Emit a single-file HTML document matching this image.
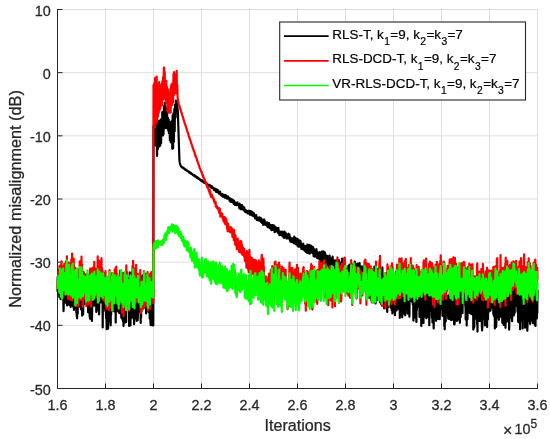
<!DOCTYPE html>
<html><head><meta charset="utf-8"><title>Normalized misalignment</title>
<style>
html,body{margin:0;padding:0;background:#fff;}
body{width:550px;height:439px;overflow:hidden;}
svg{display:block;font-family:"Liberation Sans",Arial,Helvetica,sans-serif;fill:#262626;}
.grid line{stroke:#dfdfdf;stroke-width:1;}
.ax line{stroke:#262626;stroke-width:1;}
.tl text{font-size:14.4px;}
text{stroke:#262626;stroke-width:0.25px;}
.lab{font-size:15.6px;}
.leg text{font-size:13.45px;fill:#000;stroke:#000;stroke-width:0.2px;}
.c{fill:none;stroke-width:2.2;stroke-linejoin:round;stroke-linecap:butt;}
</style></head><body>
<svg width="550" height="439" viewBox="0 0 550 439">
<rect width="550" height="439" fill="#fff"/>
<g class="grid">
<line x1="57.5" y1="9.5" x2="57.5" y2="388.5"/>
<line x1="105.5" y1="9.5" x2="105.5" y2="388.5"/>
<line x1="153.5" y1="9.5" x2="153.5" y2="388.5"/>
<line x1="201.5" y1="9.5" x2="201.5" y2="388.5"/>
<line x1="249.5" y1="9.5" x2="249.5" y2="388.5"/>
<line x1="297.5" y1="9.5" x2="297.5" y2="388.5"/>
<line x1="345.5" y1="9.5" x2="345.5" y2="388.5"/>
<line x1="393.5" y1="9.5" x2="393.5" y2="388.5"/>
<line x1="441.5" y1="9.5" x2="441.5" y2="388.5"/>
<line x1="489.5" y1="9.5" x2="489.5" y2="388.5"/>
<line x1="537.5" y1="9.5" x2="537.5" y2="388.5"/>
<line x1="57.5" y1="9.50" x2="537.5" y2="9.50"/>
<line x1="57.5" y1="72.67" x2="537.5" y2="72.67"/>
<line x1="57.5" y1="135.83" x2="537.5" y2="135.83"/>
<line x1="57.5" y1="199.00" x2="537.5" y2="199.00"/>
<line x1="57.5" y1="262.17" x2="537.5" y2="262.17"/>
<line x1="57.5" y1="325.33" x2="537.5" y2="325.33"/>
<line x1="57.5" y1="388.50" x2="537.5" y2="388.50"/>
</g>
<g class="ax">
<line x1="57.5" y1="9" x2="57.5" y2="389"/>
<line x1="57" y1="388.5" x2="538" y2="388.5"/>
<line x1="57.5" y1="388.5" x2="57.5" y2="383.5"/>
<line x1="105.5" y1="388.5" x2="105.5" y2="383.5"/>
<line x1="153.5" y1="388.5" x2="153.5" y2="383.5"/>
<line x1="201.5" y1="388.5" x2="201.5" y2="383.5"/>
<line x1="249.5" y1="388.5" x2="249.5" y2="383.5"/>
<line x1="297.5" y1="388.5" x2="297.5" y2="383.5"/>
<line x1="345.5" y1="388.5" x2="345.5" y2="383.5"/>
<line x1="393.5" y1="388.5" x2="393.5" y2="383.5"/>
<line x1="441.5" y1="388.5" x2="441.5" y2="383.5"/>
<line x1="489.5" y1="388.5" x2="489.5" y2="383.5"/>
<line x1="537.5" y1="388.5" x2="537.5" y2="383.5"/>
<line x1="57.5" y1="9.50" x2="62.5" y2="9.50"/>
<line x1="57.5" y1="72.67" x2="62.5" y2="72.67"/>
<line x1="57.5" y1="135.83" x2="62.5" y2="135.83"/>
<line x1="57.5" y1="199.00" x2="62.5" y2="199.00"/>
<line x1="57.5" y1="262.17" x2="62.5" y2="262.17"/>
<line x1="57.5" y1="325.33" x2="62.5" y2="325.33"/>
<line x1="57.5" y1="388.50" x2="62.5" y2="388.50"/>
</g>
<g class="tl">
<text transform="translate(57.5,410.4) scale(1,1.05)" text-anchor="middle">1.6</text>
<text transform="translate(105.5,410.4) scale(1,1.05)" text-anchor="middle">1.8</text>
<text transform="translate(153.5,410.4) scale(1,1.05)" text-anchor="middle">2</text>
<text transform="translate(201.5,410.4) scale(1,1.05)" text-anchor="middle">2.2</text>
<text transform="translate(249.5,410.4) scale(1,1.05)" text-anchor="middle">2.4</text>
<text transform="translate(297.5,410.4) scale(1,1.05)" text-anchor="middle">2.6</text>
<text transform="translate(345.5,410.4) scale(1,1.05)" text-anchor="middle">2.8</text>
<text transform="translate(393.5,410.4) scale(1,1.05)" text-anchor="middle">3</text>
<text transform="translate(441.5,410.4) scale(1,1.05)" text-anchor="middle">3.2</text>
<text transform="translate(489.5,410.4) scale(1,1.05)" text-anchor="middle">3.4</text>
<text transform="translate(537.5,410.4) scale(1,1.05)" text-anchor="middle">3.6</text>
<text transform="translate(50.7,15.5) scale(1,1.05)" text-anchor="end">10</text>
<text transform="translate(50.7,78.7) scale(1,1.05)" text-anchor="end">0</text>
<text transform="translate(50.7,141.8) scale(1,1.05)" text-anchor="end">-10</text>
<text transform="translate(50.7,205.0) scale(1,1.05)" text-anchor="end">-20</text>
<text transform="translate(50.7,268.2) scale(1,1.05)" text-anchor="end">-30</text>
<text transform="translate(50.7,331.3) scale(1,1.05)" text-anchor="end">-40</text>
<text transform="translate(50.7,394.5) scale(1,1.05)" text-anchor="end">-50</text>
</g>
<text class="lab" transform="translate(297.6,431.4) scale(1.033,1)" text-anchor="middle">Iterations</text>
<text class="lab" transform="translate(20.5,199) rotate(-90) scale(1.042,1)" text-anchor="middle">Normalized misalignment (dB)</text>
<g class="tl"><text style="font-size:16px" x="503.0" y="436.2">×</text>
<text transform="translate(514.4,434) scale(1,1.06)">10</text>
<text transform="translate(530.4,428) scale(1,1.05)" style="font-size:12px">5</text></g>
<path class="c" stroke="#000" d="M57.5,291.8 L57.7,277.1 L57.9,276.5 L58.1,281.5 L58.3,274.8 L58.5,294.1 L58.7,281.0 L58.9,270.5 L59.1,280.7 L59.3,297.0 L59.5,269.5 L59.7,269.7 L59.9,266.0 L60.1,272.6 L60.3,286.9 L60.5,299.1 L60.7,269.6 L60.9,269.1 L61.1,297.8 L61.3,290.2 L61.5,276.5 L61.7,293.6 L61.9,292.8 L62.1,299.1 L62.3,285.6 L62.5,277.6 L62.7,294.4 L62.9,279.5 L63.1,288.3 L63.3,286.3 L63.5,311.1 L63.7,306.5 L63.9,282.4 L64.1,295.1 L64.3,279.3 L64.5,286.1 L64.7,277.7 L64.9,278.0 L65.1,277.1 L65.3,286.2 L65.5,302.4 L65.7,300.7 L65.9,289.9 L66.1,302.9 L66.3,290.9 L66.5,285.8 L66.7,283.5 L66.9,282.0 L67.1,305.5 L67.3,287.9 L67.5,284.4 L67.7,275.3 L67.9,285.2 L68.1,295.5 L68.3,296.1 L68.5,271.4 L68.7,273.3 L68.9,268.9 L69.1,268.9 L69.3,305.0 L69.5,283.9 L69.7,281.9 L69.9,283.9 L70.1,278.7 L70.3,288.9 L70.5,288.9 L70.7,307.0 L70.9,291.5 L71.1,299.8 L71.3,281.6 L71.5,296.2 L71.7,281.4 L71.9,281.1 L72.1,279.1 L72.3,293.4 L72.5,294.3 L72.7,297.9 L72.9,305.7 L73.1,306.6 L73.3,292.1 L73.5,298.9 L73.7,281.4 L73.9,310.0 L74.1,280.5 L74.3,303.8 L74.5,306.4 L74.7,296.6 L74.9,304.3 L75.1,286.2 L75.3,304.6 L75.5,308.0 L75.7,300.0 L75.9,288.5 L76.1,296.0 L76.3,312.4 L76.5,300.6 L76.7,316.2 L76.9,276.3 L77.1,318.3 L77.3,291.2 L77.5,289.6 L77.7,313.7 L77.9,291.9 L78.1,281.8 L78.3,295.0 L78.5,302.6 L78.7,286.2 L78.9,300.1 L79.1,295.6 L79.3,300.1 L79.5,287.4 L79.7,302.5 L79.9,285.0 L80.1,301.8 L80.3,307.1 L80.5,292.1 L80.7,284.7 L80.9,289.6 L81.1,309.5 L81.3,284.3 L81.5,294.7 L81.7,293.0 L81.9,294.9 L82.1,315.6 L82.3,291.8 L82.5,302.8 L82.7,304.5 L82.9,313.9 L83.1,314.5 L83.3,303.0 L83.5,282.3 L83.7,273.0 L83.9,292.0 L84.1,274.8 L84.3,290.2 L84.5,304.1 L84.7,280.3 L84.9,282.7 L85.1,293.3 L85.3,283.8 L85.5,279.9 L85.7,299.2 L85.9,300.6 L86.1,291.1 L86.3,299.8 L86.5,295.4 L86.7,282.2 L86.9,275.1 L87.1,300.9 L87.3,288.4 L87.5,286.7 L87.7,291.0 L87.9,290.9 L88.1,312.3 L88.3,294.3 L88.5,276.2 L88.7,294.9 L88.9,305.8 L89.1,292.7 L89.3,284.4 L89.5,305.2 L89.7,317.1 L89.9,293.0 L90.1,318.8 L90.3,299.6 L90.5,301.6 L90.7,313.0 L90.9,288.0 L91.1,298.9 L91.3,311.1 L91.5,292.3 L91.7,309.6 L91.9,320.9 L92.1,312.1 L92.3,296.9 L92.5,290.2 L92.7,303.5 L92.9,293.8 L93.1,293.7 L93.3,303.2 L93.5,284.7 L93.7,299.7 L93.9,305.1 L94.1,291.5 L94.3,305.7 L94.5,305.0 L94.7,279.2 L94.9,294.3 L95.1,298.2 L95.3,287.7 L95.5,301.5 L95.7,285.9 L95.9,305.4 L96.1,282.9 L96.3,311.9 L96.5,278.2 L96.7,298.9 L96.9,309.2 L97.1,286.1 L97.3,289.2 L97.5,281.5 L97.7,292.0 L97.9,290.8 L98.1,270.3 L98.3,310.4 L98.5,292.3 L98.7,296.2 L98.9,295.7 L99.1,314.5 L99.3,298.7 L99.5,279.0 L99.7,292.8 L99.9,274.5 L100.1,294.6 L100.3,280.8 L100.5,271.0 L100.7,302.3 L100.9,291.7 L101.1,283.1 L101.3,282.8 L101.5,272.0 L101.7,281.9 L101.9,291.0 L102.1,278.1 L102.3,270.8 L102.5,275.8 L102.7,327.5 L102.9,296.1 L103.1,308.6 L103.3,282.5 L103.5,299.5 L103.7,275.8 L103.9,283.8 L104.1,281.5 L104.3,299.4 L104.5,301.8 L104.7,288.6 L104.9,282.6 L105.1,292.6 L105.3,311.1 L105.5,283.0 L105.7,306.8 L105.9,311.9 L106.1,318.1 L106.3,306.2 L106.5,312.3 L106.7,329.2 L106.9,290.5 L107.1,292.8 L107.3,301.3 L107.5,296.5 L107.7,292.5 L107.9,295.9 L108.1,328.6 L108.3,310.5 L108.5,294.2 L108.7,282.6 L108.9,278.7 L109.1,286.0 L109.3,321.3 L109.5,317.3 L109.7,287.0 L109.9,292.2 L110.1,280.5 L110.3,293.4 L110.5,295.2 L110.7,325.3 L110.9,303.6 L111.1,315.0 L111.3,299.0 L111.5,301.5 L111.7,304.0 L111.9,297.4 L112.1,296.0 L112.3,302.3 L112.5,292.5 L112.7,304.8 L112.9,302.2 L113.1,276.1 L113.3,299.0 L113.5,278.8 L113.7,285.7 L113.9,305.3 L114.1,311.3 L114.3,291.2 L114.5,296.7 L114.7,285.5 L114.9,308.0 L115.1,304.6 L115.3,298.0 L115.5,278.6 L115.7,322.6 L115.9,286.1 L116.1,304.1 L116.3,284.9 L116.5,297.9 L116.7,287.1 L116.9,274.0 L117.1,290.1 L117.3,296.7 L117.5,304.3 L117.7,310.9 L117.9,300.5 L118.1,309.6 L118.3,311.7 L118.5,294.2 L118.7,307.5 L118.9,283.7 L119.1,297.1 L119.3,313.2 L119.5,285.5 L119.7,286.0 L119.9,275.2 L120.1,284.1 L120.3,284.5 L120.5,288.3 L120.7,299.5 L120.9,280.0 L121.1,287.9 L121.3,317.7 L121.5,290.5 L121.7,318.5 L121.9,297.1 L122.1,310.6 L122.3,305.1 L122.5,289.0 L122.7,287.2 L122.9,321.2 L123.1,289.1 L123.3,273.1 L123.5,326.1 L123.7,278.1 L123.9,315.0 L124.1,310.9 L124.3,303.4 L124.5,322.5 L124.7,279.2 L124.9,289.9 L125.1,305.6 L125.3,303.6 L125.5,322.4 L125.7,301.4 L125.9,290.3 L126.1,322.1 L126.3,292.5 L126.5,288.0 L126.7,279.7 L126.9,274.8 L127.1,302.3 L127.3,302.8 L127.5,292.8 L127.7,304.3 L127.9,302.3 L128.1,278.9 L128.3,280.1 L128.5,290.9 L128.7,302.7 L128.9,298.7 L129.1,325.9 L129.3,299.8 L129.5,306.6 L129.7,272.3 L129.9,281.5 L130.1,296.6 L130.3,295.2 L130.5,325.5 L130.7,290.3 L130.9,275.2 L131.1,310.5 L131.3,293.1 L131.5,289.1 L131.7,317.4 L131.9,279.2 L132.1,273.4 L132.3,282.1 L132.5,281.0 L132.7,288.4 L132.9,316.4 L133.1,283.7 L133.3,283.7 L133.5,318.5 L133.7,285.1 L133.9,307.0 L134.1,324.3 L134.3,292.6 L134.5,318.9 L134.7,298.5 L134.9,310.0 L135.1,282.7 L135.3,306.6 L135.5,292.1 L135.7,299.5 L135.9,306.0 L136.1,279.6 L136.3,298.9 L136.5,311.1 L136.7,321.0 L136.9,280.9 L137.1,286.5 L137.3,304.9 L137.5,295.4 L137.7,320.1 L137.9,314.2 L138.1,312.6 L138.3,296.0 L138.5,299.0 L138.7,310.8 L138.9,295.8 L139.1,290.7 L139.3,302.1 L139.5,291.7 L139.7,309.4 L139.9,311.4 L140.1,303.4 L140.3,301.3 L140.5,296.0 L140.7,322.9 L140.9,292.9 L141.1,317.4 L141.3,299.3 L141.5,311.2 L141.7,290.2 L141.9,276.3 L142.1,276.8 L142.3,280.0 L142.5,307.4 L142.7,285.9 L142.9,289.0 L143.1,302.4 L143.3,275.1 L143.5,289.8 L143.7,291.5 L143.9,282.0 L144.1,299.9 L144.3,299.8 L144.5,292.6 L144.7,279.0 L144.9,278.3 L145.1,277.9 L145.3,274.2 L145.5,308.5 L145.7,295.8 L145.9,290.0 L146.1,313.4 L146.3,303.6 L146.5,279.9 L146.7,284.6 L146.9,281.4 L147.1,303.7 L147.3,302.3 L147.5,278.1 L147.7,302.1 L147.9,302.5 L148.1,280.6 L148.3,304.5 L148.5,311.9 L148.7,306.9 L148.9,295.7 L149.1,300.3 L149.3,297.3 L149.5,290.7 L149.7,318.7 L149.9,307.3 L150.1,309.1 L150.3,318.3 L150.5,322.7 L150.7,325.1 L150.9,323.7 L151.1,318.2 L151.3,322.9 L151.5,309.8 L151.7,282.2 L151.9,312.1 L152.1,292.1 L152.3,308.9 L152.5,325.5 L152.7,316.4 L152.9,321.2 L153.1,299.3 L153.3,325.3 L153.5,126.1 L153.7,126.3 L153.9,139.1 L154.1,127.6 L154.3,127.0 L154.5,132.6 L154.7,144.6 L154.9,137.9 L155.1,125.5 L155.3,131.2 L155.5,145.3 L155.7,141.1 L155.9,124.2 L156.1,130.8 L156.3,146.2 L156.5,143.4 L156.7,125.6 L156.9,148.2 L157.1,155.9 L157.3,125.5 L157.5,123.0 L157.7,144.5 L157.9,149.1 L158.1,136.7 L158.3,121.1 L158.5,134.7 L158.7,145.6 L158.9,134.9 L159.1,120.8 L159.3,123.5 L159.5,146.4 L159.7,132.6 L159.9,122.1 L160.1,137.4 L160.3,145.3 L160.5,124.9 L160.7,119.6 L160.9,138.5 L161.1,143.1 L161.3,128.0 L161.5,118.9 L161.7,121.8 L161.9,134.3 L162.1,135.4 L162.3,112.2 L162.5,122.6 L162.7,135.2 L162.9,135.4 L163.1,112.8 L163.3,124.7 L163.5,134.3 L163.7,125.8 L163.9,106.4 L164.1,112.6 L164.3,128.6 L164.5,117.9 L164.7,102.6 L164.9,118.6 L165.1,127.9 L165.3,123.6 L165.5,106.7 L165.7,108.8 L165.9,125.2 L166.1,112.0 L166.3,109.2 L166.5,116.7 L166.7,128.2 L166.9,121.3 L167.1,112.7 L167.3,124.0 L167.5,126.9 L167.7,118.1 L167.9,117.9 L168.1,122.5 L168.3,130.7 L168.5,130.8 L168.7,119.6 L168.9,133.1 L169.1,132.7 L169.3,131.8 L169.5,122.3 L169.7,131.6 L169.9,140.2 L170.1,136.6 L170.3,125.0 L170.5,126.3 L170.7,142.3 L170.9,125.9 L171.1,121.7 L171.3,136.1 L171.5,140.7 L171.7,131.1 L171.9,121.6 L172.1,139.4 L172.3,148.8 L172.5,121.0 L172.7,115.3 L172.9,137.2 L173.1,148.3 L173.3,132.0 L173.5,113.0 L173.7,129.2 L173.9,141.8 L174.1,124.2 L174.3,109.2 L174.5,128.1 L174.7,131.2 L174.9,111.5 L175.1,104.8 L175.3,116.9 L175.5,117.4 L175.7,105.6 L175.9,100.6 L176.1,102.1 L176.3,109.1 L176.5,105.8 L176.7,101.1 L176.9,103.4 L177.1,105.2 L177.3,107.0 L177.6,108.9 L177.8,110.9 L178.0,116.9 L178.2,122.9 L178.4,128.9 L178.6,134.9 L178.8,141.0 L179.0,147.0 L179.2,153.0 L179.4,159.0 L179.6,161.7 L179.8,162.6 L180.0,163.4 L180.2,164.3 L180.4,164.8 L180.6,165.3 L180.8,165.8 L181.0,166.3 L181.2,166.4 L181.4,166.5 L181.6,166.9 L181.8,167.4 L182.0,167.2 L182.2,167.3 L182.4,167.3 L182.6,167.5 L182.8,167.4 L183.0,167.5 L183.2,168.0 L183.4,167.7 L183.6,168.3 L183.8,168.5 L184.0,168.6 L184.2,168.3 L184.4,168.7 L184.6,169.3 L184.8,169.1 L185.0,169.2 L185.2,169.3 L185.4,169.6 L185.6,169.9 L185.8,169.5 L186.0,170.0 L186.2,170.2 L186.4,170.3 L186.6,170.3 L186.8,170.3 L187.0,170.3 L187.2,170.9 L187.4,171.0 L187.6,171.1 L187.8,170.9 L188.0,171.2 L188.2,171.3 L188.4,171.4 L188.6,172.0 L188.8,171.9 L189.0,172.4 L189.2,171.8 L189.4,172.6 L189.6,172.6 L189.8,172.2 L190.0,172.6 L190.2,172.7 L190.4,173.3 L190.6,173.5 L190.8,173.3 L191.0,173.0 L191.2,173.8 L191.4,173.3 L191.6,173.9 L191.8,174.0 L192.0,174.0 L192.2,174.1 L192.4,174.1 L192.6,174.7 L192.8,174.9 L193.0,175.2 L193.2,175.2 L193.4,175.3 L193.6,175.5 L193.8,175.3 L194.0,175.7 L194.2,175.9 L194.4,175.1 L194.6,175.9 L194.8,176.3 L195.0,176.0 L195.2,175.9 L195.4,176.8 L195.6,177.0 L195.8,176.9 L196.0,176.4 L196.2,176.9 L196.4,177.1 L196.6,177.0 L196.8,176.9 L197.0,177.8 L197.2,177.6 L197.4,178.1 L197.6,177.3 L197.8,177.5 L198.0,177.7 L198.2,178.3 L198.4,178.1 L198.6,179.0 L198.8,178.6 L199.0,179.1 L199.2,179.2 L199.4,179.3 L199.6,179.5 L199.8,179.4 L200.0,179.6 L200.2,179.5 L200.4,180.1 L200.6,179.9 L200.8,180.4 L201.0,180.0 L201.2,180.7 L201.4,181.1 L201.6,180.9 L201.8,180.0 L202.0,180.6 L202.2,181.1 L202.4,180.7 L202.6,180.9 L202.8,181.1 L203.0,181.7 L203.2,181.9 L203.4,181.8 L203.6,182.4 L203.8,182.6 L204.0,182.3 L204.2,181.9 L204.4,182.1 L204.6,182.3 L204.8,182.2 L205.0,182.1 L205.2,182.9 L205.4,182.6 L205.6,182.5 L205.8,183.1 L206.0,183.5 L206.2,183.2 L206.4,183.1 L206.6,183.8 L206.8,184.0 L207.0,184.6 L207.2,185.2 L207.4,184.2 L207.6,184.9 L207.8,185.5 L208.0,184.9 L208.2,186.0 L208.4,185.7 L208.6,185.2 L208.8,185.9 L209.0,184.9 L209.2,186.4 L209.4,185.4 L209.6,185.6 L209.8,185.0 L210.0,185.3 L210.2,185.6 L210.4,186.3 L210.6,186.8 L210.8,185.9 L211.0,187.7 L211.2,187.0 L211.4,187.2 L211.6,186.9 L211.8,187.7 L212.0,186.4 L212.2,187.9 L212.4,187.3 L212.6,187.9 L212.8,187.7 L213.0,187.9 L213.2,188.3 L213.4,188.0 L213.6,189.2 L213.8,188.7 L214.0,189.8 L214.2,188.6 L214.4,189.8 L214.6,190.2 L214.8,189.9 L215.0,188.6 L215.2,189.2 L215.4,189.7 L215.6,189.1 L215.8,191.4 L216.0,191.8 L216.2,191.0 L216.4,191.0 L216.6,190.1 L216.8,189.5 L217.0,192.1 L217.2,189.7 L217.4,190.1 L217.6,190.6 L217.8,191.1 L218.0,190.2 L218.2,191.8 L218.4,192.2 L218.6,192.1 L218.8,193.5 L219.0,191.7 L219.2,193.0 L219.4,192.3 L219.6,191.8 L219.8,193.0 L220.0,191.6 L220.2,194.2 L220.4,193.3 L220.6,194.9 L220.8,193.7 L221.0,194.7 L221.2,194.3 L221.4,194.7 L221.6,195.6 L221.8,195.3 L222.0,194.1 L222.2,194.0 L222.4,196.0 L222.6,196.5 L222.8,196.1 L223.0,196.1 L223.2,196.2 L223.4,196.7 L223.6,194.9 L223.8,194.7 L224.0,195.1 L224.2,196.4 L224.4,196.1 L224.6,196.4 L224.8,197.7 L225.0,195.7 L225.2,196.0 L225.4,197.5 L225.6,194.9 L225.8,195.4 L226.0,195.6 L226.2,195.7 L226.4,196.1 L226.6,198.5 L226.8,197.2 L227.0,196.8 L227.2,198.7 L227.4,197.5 L227.6,198.1 L227.8,196.3 L228.0,196.9 L228.2,197.2 L228.4,198.7 L228.6,198.3 L228.8,198.3 L229.0,198.9 L229.2,197.9 L229.4,199.0 L229.6,200.6 L229.8,198.2 L230.0,200.7 L230.2,199.8 L230.4,201.5 L230.6,200.1 L230.8,201.4 L231.0,200.9 L231.2,202.0 L231.4,199.1 L231.6,200.5 L231.8,200.4 L232.0,199.4 L232.2,200.2 L232.4,200.2 L232.6,202.4 L232.8,200.4 L233.0,201.8 L233.2,200.1 L233.4,201.6 L233.6,203.0 L233.8,204.0 L234.0,202.6 L234.2,201.0 L234.4,202.7 L234.6,202.2 L234.8,204.7 L235.0,204.9 L235.2,204.4 L235.4,203.4 L235.6,203.4 L235.8,202.9 L236.0,203.8 L236.2,205.1 L236.4,204.2 L236.6,203.2 L236.8,204.0 L237.0,203.9 L237.2,202.3 L237.4,204.6 L237.6,204.0 L237.8,205.2 L238.0,204.7 L238.2,204.2 L238.4,204.0 L238.6,205.1 L238.8,204.3 L239.0,205.6 L239.2,207.3 L239.4,208.3 L239.6,203.7 L239.8,205.1 L240.0,205.5 L240.2,208.1 L240.4,207.2 L240.6,204.9 L240.8,209.1 L241.0,207.2 L241.2,206.4 L241.4,206.4 L241.6,206.8 L241.8,207.3 L242.0,205.2 L242.2,208.3 L242.4,209.4 L242.6,207.5 L242.8,206.3 L243.0,208.4 L243.2,207.0 L243.4,209.4 L243.6,209.9 L243.8,207.2 L244.0,207.4 L244.2,207.5 L244.4,209.7 L244.6,211.0 L244.8,211.4 L245.0,210.9 L245.2,209.7 L245.4,210.8 L245.6,212.1 L245.8,210.0 L246.0,210.9 L246.2,210.8 L246.4,211.7 L246.6,211.9 L246.8,210.9 L247.0,211.3 L247.2,211.7 L247.4,213.1 L247.6,211.7 L247.8,212.5 L248.0,213.4 L248.2,210.8 L248.4,210.8 L248.6,210.7 L248.8,212.2 L249.0,211.5 L249.2,212.2 L249.4,211.8 L249.6,213.2 L249.8,214.6 L250.0,211.2 L250.2,214.6 L250.4,213.1 L250.6,211.2 L250.8,212.3 L251.0,212.3 L251.2,212.9 L251.4,213.0 L251.6,213.6 L251.8,211.5 L252.0,215.5 L252.2,214.2 L252.4,214.5 L252.6,215.1 L252.8,213.8 L253.0,212.7 L253.2,216.0 L253.4,216.1 L253.6,215.3 L253.8,215.5 L254.0,213.3 L254.2,214.9 L254.4,216.5 L254.6,216.0 L254.8,215.9 L255.0,217.0 L255.2,218.5 L255.4,216.3 L255.6,217.5 L255.8,218.0 L256.0,217.5 L256.2,215.2 L256.4,216.6 L256.6,217.2 L256.8,219.1 L257.0,220.0 L257.2,219.3 L257.4,218.5 L257.6,219.4 L257.8,219.0 L258.0,217.5 L258.2,219.1 L258.4,220.5 L258.6,219.2 L258.8,219.3 L259.0,218.3 L259.2,220.5 L259.4,218.8 L259.6,217.3 L259.8,218.2 L260.0,220.8 L260.2,220.9 L260.4,219.6 L260.6,219.6 L260.8,219.0 L261.0,221.0 L261.2,222.1 L261.4,218.4 L261.6,219.5 L261.8,219.7 L262.0,220.7 L262.2,223.2 L262.4,221.9 L262.6,221.8 L262.8,221.1 L263.0,222.2 L263.2,224.8 L263.4,221.5 L263.6,220.8 L263.8,219.7 L264.0,221.1 L264.2,219.5 L264.4,220.4 L264.6,220.9 L264.8,221.4 L265.0,224.7 L265.2,222.2 L265.4,222.4 L265.6,223.7 L265.8,222.6 L266.0,224.0 L266.2,225.1 L266.4,224.6 L266.6,224.6 L266.8,223.3 L267.0,224.8 L267.2,222.3 L267.4,226.8 L267.6,224.5 L267.8,227.1 L268.0,226.3 L268.2,223.5 L268.4,224.2 L268.6,224.4 L268.8,224.9 L269.0,223.0 L269.2,227.5 L269.4,225.2 L269.6,228.2 L269.8,227.0 L270.0,226.0 L270.2,227.4 L270.4,225.6 L270.6,225.0 L270.8,228.3 L271.0,227.2 L271.2,228.3 L271.4,230.1 L271.6,227.6 L271.8,228.0 L272.0,225.2 L272.2,227.9 L272.4,225.1 L272.6,229.8 L272.8,225.1 L273.0,227.7 L273.2,227.2 L273.4,226.6 L273.6,226.3 L273.8,225.5 L274.0,225.6 L274.2,229.6 L274.4,230.2 L274.6,232.1 L274.8,228.1 L275.0,226.5 L275.2,227.5 L275.4,227.3 L275.6,228.0 L275.8,228.8 L276.0,228.3 L276.2,228.0 L276.4,231.4 L276.6,227.8 L276.8,231.2 L277.0,229.2 L277.2,231.4 L277.4,229.8 L277.6,230.2 L277.8,231.8 L278.0,229.9 L278.2,233.1 L278.4,227.8 L278.6,231.4 L278.8,231.7 L279.0,231.3 L279.2,233.7 L279.4,235.2 L279.6,232.0 L279.8,231.9 L280.0,234.6 L280.2,233.6 L280.4,234.8 L280.6,233.3 L280.8,232.8 L281.0,231.6 L281.2,232.6 L281.4,234.6 L281.6,231.8 L281.8,235.5 L282.0,232.0 L282.2,231.7 L282.4,233.9 L282.6,236.3 L282.8,232.4 L283.0,236.3 L283.2,236.6 L283.4,236.2 L283.6,232.3 L283.8,234.9 L284.0,238.0 L284.2,233.4 L284.4,231.7 L284.6,232.2 L284.8,236.8 L285.0,234.6 L285.2,233.7 L285.4,232.7 L285.6,233.1 L285.8,236.2 L286.0,233.7 L286.2,233.8 L286.4,238.5 L286.6,235.6 L286.8,234.8 L287.0,234.7 L287.2,234.3 L287.4,234.6 L287.6,236.3 L287.8,236.8 L288.0,238.5 L288.2,235.9 L288.4,234.2 L288.6,233.7 L288.8,238.1 L289.0,237.1 L289.2,234.5 L289.4,234.3 L289.6,236.1 L289.8,237.6 L290.0,240.4 L290.2,238.5 L290.4,241.6 L290.6,238.9 L290.8,237.9 L291.0,240.1 L291.2,242.0 L291.4,241.3 L291.6,238.8 L291.8,240.3 L292.0,241.9 L292.2,240.2 L292.4,238.3 L292.6,239.0 L292.8,241.6 L293.0,241.8 L293.2,242.3 L293.4,241.8 L293.6,243.2 L293.8,240.8 L294.0,242.7 L294.2,236.7 L294.4,241.0 L294.6,240.5 L294.8,240.5 L295.0,237.5 L295.2,243.6 L295.4,242.6 L295.6,243.6 L295.8,243.7 L296.0,241.6 L296.2,239.9 L296.4,244.6 L296.6,241.2 L296.8,238.6 L297.0,241.2 L297.2,242.0 L297.4,244.1 L297.6,245.9 L297.8,242.5 L298.0,239.3 L298.2,243.3 L298.4,246.7 L298.6,242.6 L298.8,243.7 L299.0,241.5 L299.2,240.3 L299.4,243.2 L299.6,241.6 L299.8,246.7 L300.0,240.6 L300.2,242.7 L300.4,241.1 L300.6,241.5 L300.8,244.0 L301.0,245.5 L301.2,247.0 L301.4,248.8 L301.6,246.5 L301.8,245.3 L302.0,248.6 L302.2,245.7 L302.4,247.2 L302.6,245.7 L302.8,247.8 L303.0,249.3 L303.2,243.7 L303.4,245.0 L303.6,245.8 L303.8,247.8 L304.0,247.0 L304.2,247.7 L304.4,247.4 L304.6,250.7 L304.8,245.9 L305.0,250.7 L305.2,248.6 L305.4,250.0 L305.6,247.7 L305.8,252.0 L306.0,246.0 L306.2,248.4 L306.4,248.6 L306.6,247.1 L306.8,250.6 L307.0,253.0 L307.2,248.5 L307.4,244.7 L307.6,245.2 L307.8,248.0 L308.0,248.7 L308.2,247.7 L308.4,253.1 L308.6,249.4 L308.8,249.3 L309.0,244.9 L309.2,248.8 L309.4,245.7 L309.6,248.3 L309.8,253.7 L310.0,245.4 L310.2,252.3 L310.4,247.0 L310.6,245.7 L310.8,250.3 L311.0,252.1 L311.2,245.9 L311.4,247.7 L311.6,252.0 L311.8,249.8 L312.0,248.6 L312.2,247.1 L312.4,253.1 L312.6,249.6 L312.8,246.9 L313.0,247.9 L313.2,248.5 L313.4,248.1 L313.6,256.1 L313.8,248.8 L314.0,251.4 L314.2,252.0 L314.4,256.5 L314.6,256.4 L314.8,256.7 L315.0,252.0 L315.2,255.4 L315.4,254.1 L315.6,253.7 L315.8,250.7 L316.0,252.8 L316.2,252.7 L316.4,249.0 L316.6,253.9 L316.8,251.4 L317.0,257.9 L317.2,255.4 L317.4,254.7 L317.6,252.6 L317.8,256.7 L318.0,258.4 L318.2,257.9 L318.4,255.7 L318.6,253.0 L318.8,253.3 L319.0,258.7 L319.2,252.5 L319.4,254.3 L319.6,252.0 L319.8,255.4 L320.0,259.4 L320.2,253.3 L320.4,254.4 L320.6,259.0 L320.8,262.3 L321.0,258.3 L321.2,258.6 L321.4,256.2 L321.6,253.8 L321.8,251.6 L322.0,255.3 L322.2,251.5 L322.4,251.6 L322.6,254.7 L322.8,261.3 L323.0,254.2 L323.2,254.0 L323.4,251.4 L323.6,253.8 L323.8,257.0 L324.0,251.8 L324.2,258.6 L324.4,256.1 L324.6,257.0 L324.8,252.3 L325.0,255.0 L325.2,265.1 L325.4,254.2 L325.6,262.6 L325.8,256.3 L326.0,260.8 L326.2,257.4 L326.4,257.2 L326.6,260.1 L326.8,262.2 L327.0,255.8 L327.2,259.6 L327.4,259.8 L327.6,259.9 L327.8,264.9 L328.0,256.4 L328.2,264.2 L328.4,263.6 L328.6,263.3 L328.8,265.3 L329.0,267.2 L329.2,261.1 L329.4,260.5 L329.6,255.5 L329.8,260.1 L330.0,264.9 L330.2,259.6 L330.4,259.3 L330.6,258.3 L330.8,265.1 L331.0,267.5 L331.2,259.5 L331.4,266.6 L331.6,259.5 L331.8,269.0 L332.0,261.4 L332.2,265.4 L332.4,262.1 L332.6,256.6 L332.8,261.3 L333.0,267.1 L333.2,269.0 L333.4,267.6 L333.6,262.1 L333.8,264.4 L334.0,265.3 L334.2,265.6 L334.4,262.5 L334.6,262.1 L334.8,260.4 L335.0,268.3 L335.2,260.6 L335.4,272.3 L335.6,270.5 L335.8,270.2 L336.0,271.9 L336.2,268.5 L336.4,260.6 L336.6,267.4 L336.8,269.4 L337.0,267.2 L337.2,265.6 L337.4,266.5 L337.6,265.0 L337.8,268.2 L338.0,262.9 L338.2,260.7 L338.4,262.8 L338.6,263.2 L338.8,260.0 L339.0,265.7 L339.2,261.3 L339.4,264.1 L339.6,268.0 L339.8,267.0 L340.0,271.7 L340.2,268.1 L340.4,271.5 L340.6,270.1 L340.8,264.4 L341.0,264.7 L341.2,263.1 L341.4,266.3 L341.6,262.4 L341.8,271.6 L342.0,265.6 L342.2,258.5 L342.4,262.7 L342.6,264.5 L342.8,269.0 L343.0,265.9 L343.2,275.9 L343.4,274.6 L343.6,267.8 L343.8,265.8 L344.0,272.5 L344.2,268.1 L344.4,268.6 L344.6,268.0 L344.8,273.5 L345.0,274.7 L345.2,265.5 L345.4,277.4 L345.6,275.4 L345.8,272.3 L346.0,274.8 L346.2,269.3 L346.4,274.3 L346.6,273.3 L346.8,277.6 L347.0,278.0 L347.2,272.0 L347.4,270.4 L347.6,273.9 L347.8,270.2 L348.0,274.0 L348.2,272.7 L348.4,265.9 L348.6,275.8 L348.8,271.9 L349.0,269.5 L349.2,270.1 L349.4,276.3 L349.6,264.7 L349.8,266.9 L350.0,269.5 L350.2,267.9 L350.4,273.3 L350.6,278.5 L350.8,271.9 L351.0,281.0 L351.2,265.9 L351.4,281.5 L351.6,270.9 L351.8,266.2 L352.0,268.3 L352.2,279.5 L352.4,268.9 L352.6,270.3 L352.8,272.0 L353.0,270.8 L353.2,264.2 L353.4,266.5 L353.6,268.7 L353.8,274.6 L354.0,266.3 L354.2,279.7 L354.4,268.6 L354.6,275.9 L354.8,261.5 L355.0,282.2 L355.2,265.2 L355.4,264.3 L355.6,282.1 L355.8,276.8 L356.0,265.2 L356.2,265.0 L356.4,285.2 L356.6,278.9 L356.8,280.8 L357.0,278.7 L357.2,278.3 L357.4,263.5 L357.6,272.1 L357.8,277.1 L358.0,279.7 L358.2,272.0 L358.4,271.3 L358.6,284.8 L358.8,268.2 L359.0,286.2 L359.2,277.0 L359.4,269.7 L359.6,263.1 L359.8,280.2 L360.0,276.5 L360.2,269.2 L360.4,278.4 L360.6,270.5 L360.8,268.7 L361.0,271.2 L361.2,268.5 L361.4,268.2 L361.6,278.2 L361.8,266.3 L362.0,293.6 L362.2,288.3 L362.4,268.2 L362.6,275.3 L362.8,281.4 L363.0,274.9 L363.2,270.3 L363.4,285.6 L363.6,277.9 L363.8,287.3 L364.0,284.6 L364.2,283.7 L364.4,266.0 L364.6,283.3 L364.8,281.1 L365.0,271.4 L365.2,286.2 L365.4,290.4 L365.6,273.8 L365.8,281.0 L366.0,281.6 L366.2,285.8 L366.4,295.4 L366.6,263.4 L366.8,287.1 L367.0,284.6 L367.2,291.3 L367.4,281.1 L367.6,266.5 L367.8,281.8 L368.0,274.7 L368.2,283.5 L368.4,267.4 L368.6,285.2 L368.8,297.5 L369.0,276.6 L369.2,286.3 L369.4,284.1 L369.6,287.5 L369.8,286.1 L370.0,283.6 L370.2,294.1 L370.4,298.1 L370.6,271.1 L370.8,285.1 L371.0,285.5 L371.2,290.1 L371.4,300.3 L371.6,291.7 L371.8,275.4 L372.0,290.9 L372.2,285.6 L372.4,292.0 L372.6,285.2 L372.8,279.7 L373.0,277.6 L373.2,285.0 L373.4,288.5 L373.6,289.5 L373.8,281.8 L374.0,281.9 L374.2,279.4 L374.4,266.7 L374.6,276.2 L374.8,287.7 L375.0,291.9 L375.2,278.4 L375.4,302.5 L375.6,303.4 L375.8,297.3 L376.0,274.9 L376.2,298.8 L376.4,271.9 L376.6,285.9 L376.8,295.9 L377.0,289.1 L377.2,269.4 L377.4,293.8 L377.6,299.8 L377.8,284.8 L378.0,277.9 L378.2,283.0 L378.4,293.1 L378.6,290.6 L378.8,292.7 L379.0,276.1 L379.2,268.3 L379.4,284.0 L379.6,270.5 L379.8,293.7 L380.0,281.4 L380.2,302.4 L380.4,301.4 L380.6,293.7 L380.8,303.3 L381.0,286.1 L381.2,304.3 L381.4,294.1 L381.6,299.0 L381.8,294.8 L382.0,297.5 L382.2,276.7 L382.4,267.4 L382.6,303.2 L382.8,287.4 L383.0,292.7 L383.2,305.0 L383.4,291.5 L383.6,300.0 L383.8,294.6 L384.0,276.4 L384.2,308.5 L384.4,283.7 L384.6,283.8 L384.8,299.2 L385.0,287.1 L385.2,288.9 L385.4,304.2 L385.6,279.8 L385.8,306.0 L386.0,279.8 L386.2,297.2 L386.4,308.3 L386.6,301.6 L386.8,305.8 L387.0,295.1 L387.2,312.0 L387.4,293.8 L387.6,292.5 L387.8,274.6 L388.0,301.4 L388.2,274.4 L388.4,307.1 L388.6,280.4 L388.8,291.7 L389.0,289.0 L389.2,298.7 L389.4,306.3 L389.6,306.4 L389.8,277.8 L390.0,282.7 L390.2,292.2 L390.4,280.0 L390.6,295.4 L390.8,291.5 L391.0,307.8 L391.2,280.2 L391.4,276.0 L391.6,310.2 L391.8,296.5 L392.0,277.7 L392.2,270.0 L392.4,313.5 L392.6,280.8 L392.8,286.7 L393.0,311.8 L393.2,291.4 L393.4,299.9 L393.6,293.7 L393.8,306.7 L394.0,298.0 L394.2,306.2 L394.4,292.1 L394.6,301.7 L394.8,311.8 L395.0,315.2 L395.2,286.1 L395.4,289.2 L395.6,287.9 L395.8,300.8 L396.0,295.9 L396.2,281.5 L396.4,287.5 L396.6,310.4 L396.8,300.6 L397.0,294.9 L397.2,302.8 L397.4,309.3 L397.6,283.3 L397.8,289.3 L398.0,295.9 L398.2,308.4 L398.4,293.5 L398.6,290.4 L398.8,282.4 L399.0,295.4 L399.2,275.3 L399.4,279.2 L399.6,287.1 L399.8,317.9 L400.0,309.8 L400.2,308.8 L400.4,297.0 L400.6,292.7 L400.8,279.6 L401.0,303.7 L401.2,312.7 L401.4,280.7 L401.6,296.6 L401.8,308.6 L402.0,307.5 L402.2,317.3 L402.4,286.5 L402.6,291.7 L402.8,280.8 L403.0,295.1 L403.2,295.6 L403.4,282.0 L403.6,302.5 L403.8,301.4 L404.0,295.9 L404.2,313.8 L404.4,298.4 L404.6,312.3 L404.8,285.7 L405.0,292.1 L405.2,315.3 L405.4,291.2 L405.6,279.5 L405.8,309.7 L406.0,305.9 L406.2,296.5 L406.4,306.7 L406.6,299.9 L406.8,290.7 L407.0,300.9 L407.2,296.5 L407.4,285.9 L407.6,313.6 L407.8,295.3 L408.0,283.4 L408.2,300.9 L408.4,302.1 L408.6,293.6 L408.8,303.2 L409.0,283.2 L409.2,296.1 L409.4,316.7 L409.6,298.5 L409.8,293.4 L410.0,284.1 L410.2,301.2 L410.4,295.3 L410.6,280.8 L410.8,285.1 L411.0,282.4 L411.2,278.1 L411.4,293.8 L411.6,284.3 L411.8,299.0 L412.0,286.8 L412.2,300.6 L412.4,302.3 L412.6,294.0 L412.8,304.5 L413.0,298.9 L413.2,299.1 L413.4,320.6 L413.6,315.9 L413.8,296.9 L414.0,296.1 L414.2,307.8 L414.4,283.8 L414.6,298.6 L414.8,312.8 L415.0,296.9 L415.2,290.2 L415.4,298.9 L415.6,317.7 L415.8,298.1 L416.0,303.8 L416.2,278.8 L416.4,322.0 L416.6,283.3 L416.8,310.7 L417.0,291.0 L417.2,306.8 L417.4,302.9 L417.7,290.6 L417.9,299.5 L418.1,286.0 L418.3,302.2 L418.5,304.3 L418.7,296.3 L418.9,307.0 L419.1,304.3 L419.3,282.8 L419.5,316.1 L419.7,317.0 L419.9,302.2 L420.1,282.7 L420.3,291.9 L420.5,292.6 L420.7,293.1 L420.9,311.7 L421.1,303.8 L421.3,326.0 L421.5,303.9 L421.7,297.8 L421.9,315.8 L422.1,322.6 L422.3,319.7 L422.5,302.1 L422.7,289.1 L422.9,279.5 L423.1,284.4 L423.3,322.1 L423.5,323.0 L423.7,297.5 L423.9,282.6 L424.1,317.0 L424.3,307.3 L424.5,305.6 L424.7,294.6 L424.9,297.2 L425.1,295.9 L425.3,291.5 L425.5,295.4 L425.7,290.1 L425.9,284.4 L426.1,312.7 L426.3,318.2 L426.5,304.1 L426.7,288.0 L426.9,306.8 L427.1,297.7 L427.3,314.2 L427.5,292.6 L427.7,317.2 L427.9,296.2 L428.1,300.7 L428.3,298.6 L428.5,290.4 L428.7,292.1 L428.9,312.2 L429.1,292.3 L429.3,325.2 L429.5,297.2 L429.7,280.2 L429.9,292.8 L430.1,294.3 L430.3,300.6 L430.5,290.1 L430.7,309.0 L430.9,291.3 L431.1,311.0 L431.3,309.5 L431.5,302.5 L431.7,308.0 L431.9,318.0 L432.1,279.3 L432.3,298.5 L432.5,322.4 L432.7,286.4 L432.9,305.9 L433.1,307.2 L433.3,293.3 L433.5,318.7 L433.7,328.5 L433.9,306.0 L434.1,296.8 L434.3,295.3 L434.5,318.5 L434.7,302.2 L434.9,298.2 L435.1,302.8 L435.3,297.2 L435.5,288.5 L435.7,314.2 L435.9,285.2 L436.1,320.8 L436.3,300.6 L436.5,304.1 L436.7,305.3 L436.9,283.0 L437.1,285.7 L437.3,283.9 L437.5,292.1 L437.7,300.7 L437.9,293.7 L438.1,319.0 L438.3,291.9 L438.5,288.9 L438.7,285.9 L438.9,308.6 L439.1,308.8 L439.3,281.6 L439.5,299.9 L439.7,319.2 L439.9,311.9 L440.1,300.0 L440.3,282.8 L440.5,307.3 L440.7,280.1 L440.9,292.4 L441.1,296.1 L441.3,289.3 L441.5,304.5 L441.7,296.1 L441.9,309.5 L442.1,305.7 L442.3,294.8 L442.5,315.8 L442.7,300.5 L442.9,307.4 L443.1,308.4 L443.3,312.5 L443.5,286.1 L443.7,300.3 L443.9,301.3 L444.1,280.5 L444.3,326.3 L444.5,320.6 L444.7,329.3 L444.9,302.8 L445.1,296.6 L445.3,300.9 L445.5,304.5 L445.7,321.5 L445.9,284.9 L446.1,307.2 L446.3,306.8 L446.5,315.2 L446.7,298.0 L446.9,308.4 L447.1,307.6 L447.3,296.2 L447.5,304.5 L447.7,312.0 L447.9,298.0 L448.1,315.5 L448.3,318.8 L448.5,297.1 L448.7,295.4 L448.9,296.9 L449.1,298.6 L449.3,296.1 L449.5,307.6 L449.7,317.2 L449.9,286.9 L450.1,319.2 L450.3,302.5 L450.5,300.3 L450.7,301.9 L450.9,278.8 L451.1,320.2 L451.3,307.2 L451.5,295.2 L451.7,283.2 L451.9,313.7 L452.1,311.4 L452.3,287.4 L452.5,319.7 L452.7,299.2 L452.9,288.3 L453.1,309.4 L453.3,300.8 L453.5,298.3 L453.7,313.0 L453.9,301.9 L454.1,324.2 L454.3,309.8 L454.5,324.4 L454.7,322.1 L454.9,280.3 L455.1,291.1 L455.3,291.5 L455.5,319.7 L455.7,305.6 L455.9,312.8 L456.1,315.0 L456.3,290.5 L456.5,318.9 L456.7,307.5 L456.9,320.9 L457.1,290.0 L457.3,300.3 L457.5,298.2 L457.7,318.1 L457.9,310.9 L458.1,285.7 L458.3,314.2 L458.5,297.5 L458.7,294.3 L458.9,319.5 L459.1,286.2 L459.3,320.5 L459.5,302.1 L459.7,304.3 L459.9,322.8 L460.1,295.8 L460.3,293.1 L460.5,302.4 L460.7,317.2 L460.9,296.1 L461.1,294.2 L461.3,302.8 L461.5,283.4 L461.7,288.8 L461.9,292.2 L462.1,283.9 L462.3,304.7 L462.5,313.2 L462.7,300.8 L462.9,294.0 L463.1,282.6 L463.3,284.5 L463.5,295.1 L463.7,296.1 L463.9,293.1 L464.1,298.1 L464.3,300.7 L464.5,284.0 L464.7,300.6 L464.9,302.4 L465.1,294.5 L465.3,306.1 L465.5,302.1 L465.7,319.5 L465.9,299.7 L466.1,305.4 L466.3,301.1 L466.5,294.6 L466.7,325.6 L466.9,279.3 L467.1,297.6 L467.3,295.6 L467.5,319.3 L467.7,292.0 L467.9,296.2 L468.1,303.0 L468.3,301.0 L468.5,282.2 L468.7,307.2 L468.9,312.7 L469.1,286.4 L469.3,290.0 L469.5,307.0 L469.7,281.3 L469.9,298.2 L470.1,309.0 L470.3,309.9 L470.5,313.4 L470.7,310.7 L470.9,306.4 L471.1,313.1 L471.3,314.0 L471.5,307.1 L471.7,305.2 L471.9,300.1 L472.1,293.8 L472.3,307.0 L472.5,301.1 L472.7,315.1 L472.9,310.5 L473.1,292.5 L473.3,329.6 L473.5,307.0 L473.7,280.2 L473.9,327.9 L474.1,289.2 L474.3,327.1 L474.5,302.1 L474.7,286.7 L474.9,286.5 L475.1,317.1 L475.3,318.6 L475.5,318.3 L475.7,292.7 L475.9,305.6 L476.1,307.9 L476.3,300.4 L476.5,304.5 L476.7,309.9 L476.9,305.5 L477.1,324.3 L477.3,289.4 L477.5,331.6 L477.7,300.1 L477.9,319.4 L478.1,314.5 L478.3,311.0 L478.5,313.9 L478.7,308.7 L478.9,309.8 L479.1,320.9 L479.3,299.1 L479.5,311.8 L479.7,290.1 L479.9,307.3 L480.1,316.0 L480.3,301.9 L480.5,300.4 L480.7,321.0 L480.9,310.3 L481.1,294.4 L481.3,316.0 L481.5,319.5 L481.7,308.1 L481.9,326.2 L482.1,330.5 L482.3,326.4 L482.5,307.0 L482.7,298.6 L482.9,289.3 L483.1,300.3 L483.3,318.7 L483.5,293.7 L483.7,295.0 L483.9,316.7 L484.1,295.8 L484.3,311.4 L484.5,296.1 L484.7,298.4 L484.9,325.5 L485.1,288.0 L485.3,313.4 L485.5,299.2 L485.7,311.2 L485.9,292.0 L486.1,305.2 L486.3,305.3 L486.5,285.2 L486.7,296.3 L486.9,305.5 L487.1,327.1 L487.3,308.8 L487.5,308.2 L487.7,315.2 L487.9,319.4 L488.1,293.7 L488.3,288.0 L488.5,281.7 L488.7,284.4 L488.9,309.5 L489.1,289.1 L489.3,311.5 L489.5,289.0 L489.7,297.7 L489.9,304.5 L490.1,310.6 L490.3,302.4 L490.5,310.6 L490.7,284.1 L490.9,278.0 L491.1,295.2 L491.3,285.5 L491.5,293.5 L491.7,300.5 L491.9,280.2 L492.1,307.7 L492.3,296.4 L492.5,298.6 L492.7,295.0 L492.9,299.3 L493.1,291.9 L493.3,313.8 L493.5,309.0 L493.7,294.1 L493.9,315.9 L494.1,316.3 L494.3,287.2 L494.5,303.5 L494.7,296.9 L494.9,328.4 L495.1,303.1 L495.3,321.1 L495.5,321.9 L495.7,306.3 L495.9,291.8 L496.1,326.9 L496.3,322.2 L496.5,313.1 L496.7,303.3 L496.9,311.8 L497.1,277.8 L497.3,284.9 L497.5,307.9 L497.7,304.7 L497.9,282.0 L498.1,280.7 L498.3,317.3 L498.5,304.3 L498.7,289.0 L498.9,319.8 L499.1,315.0 L499.3,287.4 L499.5,312.9 L499.7,306.6 L499.9,316.0 L500.1,302.6 L500.3,294.9 L500.5,297.8 L500.7,316.7 L500.9,308.0 L501.1,283.2 L501.3,300.8 L501.5,312.6 L501.7,306.7 L501.9,295.3 L502.1,304.2 L502.3,322.8 L502.5,294.4 L502.7,286.4 L502.9,286.8 L503.1,312.9 L503.3,284.1 L503.5,313.2 L503.7,325.0 L503.9,289.3 L504.1,307.7 L504.3,296.9 L504.5,304.9 L504.7,297.3 L504.9,293.2 L505.1,293.9 L505.3,293.6 L505.5,327.8 L505.7,315.0 L505.9,297.8 L506.1,305.7 L506.3,293.5 L506.5,294.7 L506.7,321.7 L506.9,321.3 L507.1,318.3 L507.3,314.8 L507.5,314.7 L507.7,295.9 L507.9,288.6 L508.1,305.5 L508.3,301.8 L508.5,281.5 L508.7,295.9 L508.9,302.1 L509.1,329.6 L509.3,322.9 L509.5,309.5 L509.7,317.2 L509.9,284.2 L510.1,308.7 L510.3,299.1 L510.5,317.9 L510.7,316.7 L510.9,310.7 L511.1,313.3 L511.3,309.8 L511.5,296.4 L511.7,299.6 L511.9,291.4 L512.1,321.2 L512.3,297.7 L512.5,296.7 L512.7,285.4 L512.9,311.6 L513.1,309.3 L513.3,310.6 L513.5,301.6 L513.7,304.4 L513.9,315.4 L514.1,310.4 L514.3,313.8 L514.5,291.7 L514.7,312.8 L514.9,284.9 L515.1,302.6 L515.3,278.9 L515.5,280.0 L515.7,299.3 L515.9,302.3 L516.1,275.5 L516.3,284.3 L516.5,288.8 L516.7,306.1 L516.9,297.4 L517.1,286.7 L517.3,292.4 L517.5,311.8 L517.7,287.9 L517.9,297.8 L518.1,321.7 L518.3,288.3 L518.5,306.7 L518.7,289.3 L518.9,296.0 L519.1,291.0 L519.3,322.7 L519.5,289.3 L519.7,319.4 L519.9,303.7 L520.1,329.2 L520.3,302.9 L520.5,294.6 L520.7,292.7 L520.9,294.5 L521.1,320.5 L521.3,287.9 L521.5,291.2 L521.7,320.4 L521.9,317.3 L522.1,315.0 L522.3,308.0 L522.5,300.8 L522.7,328.4 L522.9,288.3 L523.1,306.4 L523.3,318.3 L523.5,288.1 L523.7,316.9 L523.9,284.4 L524.1,288.9 L524.3,303.8 L524.5,288.9 L524.7,298.3 L524.9,314.5 L525.1,327.7 L525.3,315.9 L525.5,300.3 L525.7,308.7 L525.9,287.4 L526.1,298.6 L526.3,300.7 L526.5,299.1 L526.7,315.5 L526.9,302.2 L527.1,309.4 L527.3,330.7 L527.5,325.8 L527.7,289.2 L527.9,302.6 L528.1,302.9 L528.3,321.3 L528.5,312.9 L528.7,285.4 L528.9,299.7 L529.1,302.2 L529.3,283.4 L529.5,298.2 L529.7,294.4 L529.9,283.7 L530.1,323.9 L530.3,307.7 L530.5,321.5 L530.7,318.7 L530.9,315.8 L531.1,314.6 L531.3,313.4 L531.5,304.5 L531.7,304.6 L531.9,288.3 L532.1,285.4 L532.3,299.5 L532.5,296.3 L532.7,317.7 L532.9,323.2 L533.1,299.4 L533.3,312.9 L533.5,298.1 L533.7,321.7 L533.9,280.4 L534.1,323.3 L534.3,306.3 L534.5,289.3 L534.7,321.9 L534.9,310.3 L535.1,325.3 L535.3,323.4 L535.5,325.9 L535.7,302.2 L535.9,300.1 L536.1,307.7 L536.3,294.5 L536.5,291.2 L536.7,307.9 L536.9,318.5 L537.1,310.8 L537.3,313.0 L537.5,289.7"/>
<path class="c" stroke="#f00" d="M57.5,287.7 L57.7,283.7 L57.9,279.6 L58.1,284.1 L58.3,271.6 L58.5,278.9 L58.7,276.8 L58.9,292.5 L59.1,273.3 L59.3,283.9 L59.5,288.9 L59.7,265.7 L59.9,284.5 L60.1,270.6 L60.3,291.5 L60.5,290.7 L60.7,268.2 L60.9,293.6 L61.1,292.8 L61.3,271.1 L61.5,261.3 L61.7,282.1 L61.9,285.3 L62.1,299.2 L62.3,281.2 L62.5,283.1 L62.7,291.8 L62.9,276.6 L63.1,266.3 L63.3,280.0 L63.5,288.8 L63.7,282.1 L63.9,276.0 L64.1,269.7 L64.3,263.8 L64.5,273.9 L64.7,280.5 L64.9,268.3 L65.1,268.4 L65.3,271.3 L65.5,294.6 L65.7,280.6 L65.9,261.7 L66.1,273.4 L66.3,269.4 L66.5,282.0 L66.7,267.6 L66.9,256.4 L67.1,282.7 L67.3,275.2 L67.5,282.6 L67.7,290.6 L67.9,298.3 L68.1,290.3 L68.3,278.3 L68.5,298.7 L68.7,265.0 L68.9,262.7 L69.1,266.4 L69.3,299.2 L69.5,270.8 L69.7,263.9 L69.9,279.0 L70.1,275.2 L70.3,297.5 L70.5,290.8 L70.7,293.7 L70.9,292.4 L71.1,299.9 L71.3,259.4 L71.5,280.6 L71.7,284.0 L71.9,273.4 L72.1,253.7 L72.3,300.5 L72.5,278.1 L72.7,264.8 L72.9,288.5 L73.1,289.5 L73.3,284.6 L73.5,293.4 L73.7,258.6 L73.9,269.9 L74.1,271.8 L74.3,282.1 L74.5,267.3 L74.7,281.6 L74.9,292.0 L75.1,273.0 L75.3,293.7 L75.5,283.9 L75.7,268.4 L75.9,306.1 L76.1,276.0 L76.3,287.4 L76.5,278.8 L76.7,293.6 L76.9,282.7 L77.1,305.6 L77.3,269.1 L77.5,283.5 L77.7,300.0 L77.9,288.2 L78.1,277.3 L78.3,285.1 L78.5,305.5 L78.7,280.3 L78.9,291.2 L79.1,296.6 L79.3,290.4 L79.5,271.2 L79.7,261.4 L79.9,276.0 L80.1,278.5 L80.3,265.7 L80.5,278.8 L80.7,299.9 L80.9,295.8 L81.1,296.2 L81.3,275.0 L81.5,256.6 L81.7,276.1 L81.9,281.3 L82.1,264.6 L82.3,292.3 L82.5,273.1 L82.7,306.9 L82.9,299.9 L83.1,296.2 L83.3,300.3 L83.5,298.2 L83.7,272.2 L83.9,298.7 L84.1,288.9 L84.3,297.7 L84.5,281.2 L84.7,275.1 L84.9,288.4 L85.1,288.4 L85.3,288.4 L85.5,281.7 L85.7,281.0 L85.9,274.0 L86.1,289.8 L86.3,306.2 L86.5,295.7 L86.7,296.6 L86.9,278.9 L87.1,284.7 L87.3,294.5 L87.5,296.9 L87.7,284.0 L87.9,294.3 L88.1,299.9 L88.3,297.1 L88.5,285.7 L88.7,304.2 L88.9,281.4 L89.1,286.6 L89.3,275.2 L89.5,287.9 L89.7,287.8 L89.9,289.1 L90.1,268.7 L90.3,288.4 L90.5,280.9 L90.7,275.1 L90.9,306.0 L91.1,306.7 L91.3,268.5 L91.5,285.8 L91.7,284.8 L91.9,285.2 L92.1,275.1 L92.3,278.9 L92.5,283.0 L92.7,298.3 L92.9,267.7 L93.1,278.5 L93.3,276.5 L93.5,283.9 L93.7,272.6 L93.9,299.3 L94.1,276.6 L94.3,261.8 L94.5,286.7 L94.7,280.8 L94.9,292.2 L95.1,281.2 L95.3,275.4 L95.5,288.3 L95.7,268.9 L95.9,297.0 L96.1,277.2 L96.3,286.1 L96.5,286.4 L96.7,279.0 L96.9,279.8 L97.1,280.0 L97.3,269.9 L97.5,276.7 L97.7,256.3 L97.9,294.5 L98.1,302.0 L98.3,281.4 L98.5,286.9 L98.7,274.9 L98.9,300.6 L99.1,276.1 L99.3,260.9 L99.5,270.5 L99.7,296.4 L99.9,286.1 L100.1,275.3 L100.3,264.1 L100.5,291.9 L100.7,295.6 L100.9,265.3 L101.1,296.8 L101.3,293.2 L101.5,258.2 L101.7,283.7 L101.9,279.6 L102.1,268.7 L102.3,279.8 L102.5,275.8 L102.7,299.6 L102.9,287.4 L103.1,283.4 L103.3,277.1 L103.5,298.1 L103.7,300.0 L103.9,293.3 L104.1,282.0 L104.3,292.9 L104.5,301.1 L104.7,273.7 L104.9,272.8 L105.1,282.8 L105.3,286.0 L105.5,271.2 L105.7,290.9 L105.9,299.4 L106.1,307.1 L106.3,279.0 L106.5,293.3 L106.7,308.7 L106.9,298.9 L107.1,296.5 L107.3,292.6 L107.5,307.8 L107.7,281.3 L107.9,290.4 L108.1,307.6 L108.3,304.9 L108.5,297.5 L108.7,304.6 L108.9,298.3 L109.1,309.1 L109.3,310.3 L109.5,270.1 L109.7,293.7 L109.9,299.2 L110.1,295.0 L110.3,278.4 L110.5,286.1 L110.7,303.7 L110.9,307.5 L111.1,306.3 L111.3,279.8 L111.5,293.2 L111.7,275.4 L111.9,280.9 L112.1,273.0 L112.3,311.1 L112.5,296.4 L112.7,277.9 L112.9,283.0 L113.1,282.6 L113.3,293.5 L113.5,277.7 L113.7,276.7 L113.9,297.6 L114.1,301.3 L114.3,283.9 L114.5,296.0 L114.7,269.3 L114.9,272.9 L115.1,276.2 L115.3,278.2 L115.5,279.6 L115.7,267.9 L115.9,276.2 L116.1,279.3 L116.3,266.6 L116.5,283.9 L116.7,285.0 L116.9,276.8 L117.1,280.0 L117.3,298.1 L117.5,288.0 L117.7,276.0 L117.9,304.2 L118.1,286.2 L118.3,284.1 L118.5,277.2 L118.7,301.7 L118.9,281.5 L119.1,283.2 L119.3,295.2 L119.5,294.4 L119.7,285.2 L119.9,270.6 L120.1,296.8 L120.3,281.9 L120.5,276.7 L120.7,301.5 L120.9,296.0 L121.1,284.7 L121.3,288.1 L121.5,274.3 L121.7,298.6 L121.9,312.6 L122.1,299.2 L122.3,287.5 L122.5,293.1 L122.7,291.5 L122.9,299.0 L123.1,295.7 L123.3,274.3 L123.5,316.0 L123.7,284.1 L123.9,286.4 L124.1,302.4 L124.3,285.1 L124.5,294.8 L124.7,279.3 L124.9,275.5 L125.1,278.5 L125.3,281.5 L125.5,298.7 L125.7,282.9 L125.9,291.5 L126.1,294.4 L126.3,265.4 L126.5,287.0 L126.7,290.6 L126.9,271.8 L127.1,288.7 L127.3,286.7 L127.5,298.2 L127.7,305.8 L127.9,294.0 L128.1,286.9 L128.3,299.8 L128.5,286.3 L128.7,298.8 L128.9,310.6 L129.1,304.0 L129.3,309.1 L129.5,291.0 L129.7,289.4 L129.9,282.1 L130.1,283.1 L130.3,278.1 L130.5,290.1 L130.7,300.3 L130.9,274.5 L131.1,295.8 L131.3,301.8 L131.5,295.4 L131.7,302.5 L131.9,292.2 L132.1,271.9 L132.3,277.1 L132.5,265.9 L132.7,301.3 L132.9,287.5 L133.1,260.8 L133.3,287.9 L133.5,289.1 L133.7,291.5 L133.9,291.6 L134.1,283.3 L134.3,268.5 L134.5,294.9 L134.7,290.8 L134.9,272.1 L135.1,278.4 L135.3,296.7 L135.5,302.8 L135.7,273.0 L135.9,289.0 L136.1,264.9 L136.3,279.2 L136.5,284.4 L136.7,301.4 L136.9,276.9 L137.1,284.0 L137.3,301.3 L137.5,293.3 L137.7,299.8 L137.9,273.9 L138.1,295.3 L138.3,278.9 L138.5,285.8 L138.7,283.9 L138.9,299.7 L139.1,289.4 L139.3,300.1 L139.5,292.4 L139.7,290.0 L139.9,304.2 L140.1,298.8 L140.3,270.0 L140.5,302.9 L140.7,305.7 L140.9,313.2 L141.1,286.9 L141.3,287.9 L141.5,281.1 L141.7,307.3 L141.9,294.6 L142.1,299.7 L142.3,295.3 L142.5,288.4 L142.7,288.1 L142.9,303.5 L143.1,309.1 L143.3,293.6 L143.5,296.2 L143.7,280.7 L143.9,271.4 L144.1,271.4 L144.3,276.0 L144.5,283.0 L144.7,292.9 L144.9,276.1 L145.1,288.6 L145.3,289.4 L145.5,306.1 L145.7,299.4 L145.9,288.4 L146.1,289.5 L146.3,291.8 L146.5,281.5 L146.7,303.0 L146.9,278.9 L147.1,292.6 L147.3,277.4 L147.5,272.2 L147.7,285.2 L147.9,310.5 L148.1,281.6 L148.3,279.7 L148.5,302.6 L148.7,301.7 L148.9,295.0 L149.1,300.7 L149.3,295.9 L149.5,282.9 L149.7,274.4 L149.9,281.9 L150.1,308.6 L150.3,306.5 L150.5,273.7 L150.7,290.2 L150.9,292.5 L151.1,295.2 L151.3,286.1 L151.5,283.9 L151.7,271.8 L151.9,280.8 L152.1,283.7 L152.3,287.4 L152.5,287.7 L152.7,298.1 L152.9,279.3 L153.1,287.7 L153.3,303.3 L153.5,85.2 L153.7,100.0 L153.9,116.1 L154.1,109.0 L154.3,83.0 L154.5,106.0 L154.7,127.5 L154.9,119.4 L155.1,77.9 L155.3,85.6 L155.5,119.4 L155.7,93.3 L155.9,80.2 L156.1,103.6 L156.3,123.4 L156.5,79.2 L156.7,76.5 L156.9,113.7 L157.1,120.6 L157.3,113.9 L157.5,86.6 L157.7,106.7 L157.9,116.6 L158.1,112.2 L158.3,83.9 L158.5,91.5 L158.7,113.0 L158.9,101.1 L159.1,82.2 L159.3,99.6 L159.5,110.4 L159.7,109.9 L159.9,86.5 L160.1,105.6 L160.3,108.4 L160.5,103.2 L160.7,90.7 L160.9,98.4 L161.1,105.7 L161.3,86.9 L161.5,84.2 L161.7,91.8 L161.9,105.3 L162.1,93.6 L162.3,81.3 L162.5,86.6 L162.7,96.1 L162.9,90.7 L163.1,77.1 L163.3,86.7 L163.5,99.3 L163.7,75.0 L163.9,67.6 L164.1,67.6 L164.3,98.8 L164.5,89.5 L164.7,72.0 L164.9,80.1 L165.1,97.0 L165.3,86.4 L165.5,82.8 L165.7,93.6 L165.9,100.7 L166.1,98.4 L166.3,80.8 L166.5,90.1 L166.7,103.5 L166.9,86.9 L167.1,88.4 L167.3,93.2 L167.5,111.0 L167.7,97.1 L167.9,89.6 L168.1,106.6 L168.3,112.7 L168.5,97.5 L168.7,93.0 L168.9,112.7 L169.1,111.6 L169.3,107.8 L169.5,94.1 L169.7,102.3 L169.9,110.2 L170.1,102.1 L170.3,89.4 L170.5,101.6 L170.7,112.7 L170.9,89.4 L171.1,87.8 L171.3,84.7 L171.5,102.4 L171.7,104.7 L171.9,85.6 L172.1,97.9 L172.3,105.0 L172.5,84.7 L172.7,83.0 L172.9,92.4 L173.1,102.4 L173.3,90.3 L173.5,73.8 L173.7,87.5 L173.9,95.0 L174.1,72.0 L174.3,74.8 L174.5,93.1 L174.7,91.4 L174.9,85.6 L175.1,76.7 L175.3,91.9 L175.5,93.2 L175.7,92.1 L175.9,74.8 L176.1,83.5 L176.3,93.4 L176.5,79.8 L176.7,70.8 L176.9,93.3 L177.1,93.1 L177.3,85.0 L177.6,97.7 L177.8,98.8 L178.0,100.0 L178.2,101.2 L178.4,102.3 L178.6,103.0 L178.8,104.0 L179.0,104.8 L179.2,105.5 L179.4,106.0 L179.6,106.7 L179.8,107.3 L180.0,107.6 L180.2,108.4 L180.4,109.2 L180.6,109.4 L180.8,110.4 L181.0,110.9 L181.2,112.0 L181.4,112.4 L181.6,112.7 L181.8,113.8 L182.0,114.1 L182.2,115.0 L182.4,115.8 L182.6,116.2 L182.8,116.6 L183.0,117.7 L183.2,117.7 L183.4,118.5 L183.6,119.8 L183.8,120.1 L184.0,120.6 L184.2,121.6 L184.4,122.5 L184.6,122.8 L184.8,123.5 L185.0,123.7 L185.2,124.4 L185.4,125.1 L185.6,125.9 L185.8,126.5 L186.0,126.9 L186.2,127.9 L186.4,128.3 L186.6,128.6 L186.8,129.8 L187.0,129.9 L187.2,130.7 L187.4,131.4 L187.6,132.2 L187.8,132.5 L188.0,133.2 L188.2,133.5 L188.4,133.9 L188.6,135.5 L188.8,135.9 L189.0,136.6 L189.2,136.8 L189.4,137.7 L189.6,138.0 L189.8,139.0 L190.0,139.4 L190.2,139.6 L190.4,140.8 L190.6,141.3 L190.8,141.6 L191.0,142.2 L191.2,143.4 L191.4,143.9 L191.6,144.0 L191.8,144.8 L192.0,145.9 L192.2,145.8 L192.4,146.6 L192.6,147.6 L192.8,148.3 L193.0,148.6 L193.2,149.3 L193.4,149.5 L193.6,150.1 L193.8,151.0 L194.0,151.5 L194.2,151.4 L194.4,152.4 L194.6,152.4 L194.8,153.5 L195.0,154.7 L195.2,154.4 L195.4,155.7 L195.6,156.5 L195.8,156.2 L196.0,157.2 L196.2,157.5 L196.4,157.8 L196.6,158.4 L196.8,159.4 L197.0,159.9 L197.2,160.7 L197.4,161.2 L197.6,161.9 L197.8,162.4 L198.0,162.7 L198.2,163.2 L198.4,164.4 L198.6,164.6 L198.8,165.4 L199.0,165.4 L199.2,166.2 L199.4,166.7 L199.6,167.6 L199.8,168.4 L200.0,169.0 L200.2,168.6 L200.4,169.3 L200.6,170.1 L200.8,170.6 L201.0,171.2 L201.2,171.2 L201.4,172.0 L201.6,172.7 L201.8,172.2 L202.0,173.5 L202.2,174.6 L202.4,174.5 L202.6,174.8 L202.8,174.9 L203.0,175.5 L203.2,177.1 L203.4,176.9 L203.6,177.8 L203.8,178.0 L204.0,178.6 L204.2,178.5 L204.4,179.3 L204.6,180.3 L204.8,179.7 L205.0,181.0 L205.2,181.9 L205.4,181.4 L205.6,181.8 L205.8,182.6 L206.0,184.0 L206.2,184.2 L206.4,183.3 L206.6,184.5 L206.8,185.8 L207.0,186.5 L207.2,187.0 L207.4,187.3 L207.6,187.1 L207.8,186.7 L208.0,186.9 L208.2,189.0 L208.4,188.8 L208.6,189.0 L208.8,190.6 L209.0,191.1 L209.2,191.6 L209.4,191.7 L209.6,193.1 L209.8,190.1 L210.0,191.9 L210.2,192.2 L210.4,195.0 L210.6,195.6 L210.8,193.7 L211.0,196.9 L211.2,195.7 L211.4,194.9 L211.6,194.4 L211.8,195.0 L212.0,196.1 L212.2,196.4 L212.4,196.1 L212.6,198.0 L212.8,197.6 L213.0,197.6 L213.2,198.2 L213.4,199.1 L213.6,198.3 L213.8,200.2 L214.0,201.4 L214.2,199.9 L214.4,200.2 L214.6,202.7 L214.8,203.1 L215.0,201.9 L215.2,201.8 L215.4,202.3 L215.6,202.0 L215.8,206.7 L216.0,205.9 L216.2,205.4 L216.4,205.7 L216.6,205.6 L216.8,206.2 L217.0,206.7 L217.2,208.4 L217.4,208.5 L217.6,207.4 L217.8,208.0 L218.0,208.1 L218.2,207.7 L218.4,208.1 L218.6,210.3 L218.8,211.3 L219.0,208.0 L219.2,213.0 L219.4,211.5 L219.6,208.6 L219.8,208.7 L220.0,210.7 L220.2,214.1 L220.4,216.6 L220.6,213.0 L220.8,213.5 L221.0,214.7 L221.2,216.5 L221.4,216.3 L221.6,213.3 L221.8,215.2 L222.0,215.6 L222.2,213.7 L222.4,214.0 L222.6,218.0 L222.8,218.8 L223.0,218.9 L223.2,218.6 L223.4,220.8 L223.6,219.0 L223.8,217.0 L224.0,218.1 L224.2,217.1 L224.4,222.7 L224.6,221.5 L224.8,221.9 L225.0,223.7 L225.2,217.7 L225.4,224.4 L225.6,218.3 L225.8,218.9 L226.0,219.6 L226.2,221.3 L226.4,219.5 L226.6,224.5 L226.8,222.2 L227.0,227.2 L227.2,228.5 L227.4,225.1 L227.6,231.3 L227.8,223.4 L228.0,226.4 L228.2,224.1 L228.4,226.9 L228.6,230.1 L228.8,226.5 L229.0,230.0 L229.2,230.8 L229.4,230.7 L229.6,231.6 L229.8,228.0 L230.0,232.2 L230.2,230.9 L230.4,229.1 L230.6,227.2 L230.8,229.7 L231.0,227.3 L231.2,227.8 L231.4,232.8 L231.6,228.1 L231.8,230.6 L232.0,230.4 L232.2,230.0 L232.4,237.0 L232.6,235.4 L232.8,234.0 L233.0,235.8 L233.2,229.7 L233.4,236.9 L233.6,233.2 L233.8,240.1 L234.0,234.1 L234.2,230.2 L234.4,240.0 L234.6,236.0 L234.8,239.3 L235.0,234.9 L235.2,244.7 L235.4,240.8 L235.6,235.7 L235.8,242.1 L236.0,245.1 L236.2,245.5 L236.4,243.0 L236.6,243.6 L236.8,249.3 L237.0,243.9 L237.2,244.5 L237.4,243.5 L237.6,240.7 L237.8,238.7 L238.0,242.8 L238.2,244.9 L238.4,247.0 L238.6,247.5 L238.8,242.5 L239.0,251.8 L239.2,244.4 L239.4,246.7 L239.6,247.5 L239.8,248.7 L240.0,245.8 L240.2,252.1 L240.4,240.8 L240.6,245.6 L240.8,241.2 L241.0,247.6 L241.2,249.6 L241.4,241.5 L241.6,253.6 L241.8,246.5 L242.0,244.8 L242.2,246.4 L242.4,254.8 L242.6,250.0 L242.8,251.1 L243.0,252.0 L243.2,247.7 L243.4,254.0 L243.6,251.4 L243.8,253.3 L244.0,253.8 L244.2,256.8 L244.4,249.0 L244.6,256.8 L244.8,259.5 L245.0,260.8 L245.2,253.8 L245.4,260.5 L245.6,256.4 L245.8,253.4 L246.0,262.4 L246.2,256.9 L246.4,267.7 L246.6,264.4 L246.8,257.5 L247.0,251.1 L247.2,259.8 L247.4,260.7 L247.6,267.3 L247.8,264.3 L248.0,252.5 L248.2,269.8 L248.4,263.0 L248.6,272.3 L248.8,268.6 L249.0,254.8 L249.2,264.2 L249.4,249.9 L249.6,256.5 L249.8,260.7 L250.0,272.2 L250.2,264.2 L250.4,262.1 L250.6,256.8 L250.8,264.4 L251.0,266.0 L251.2,263.3 L251.4,274.8 L251.6,262.0 L251.8,266.6 L252.0,259.6 L252.2,258.1 L252.4,263.4 L252.6,270.7 L252.8,268.1 L253.0,262.3 L253.2,273.8 L253.4,260.9 L253.6,271.9 L253.8,270.8 L254.0,259.9 L254.2,274.6 L254.4,278.2 L254.6,261.2 L254.8,260.9 L255.0,263.9 L255.2,272.2 L255.4,260.0 L255.6,279.4 L255.8,278.8 L256.0,260.3 L256.2,263.4 L256.4,261.9 L256.6,267.8 L256.8,265.5 L257.0,278.0 L257.2,264.7 L257.4,276.5 L257.6,272.8 L257.8,264.7 L258.0,267.4 L258.2,280.7 L258.4,275.8 L258.6,267.8 L258.8,260.3 L259.0,262.0 L259.2,270.5 L259.4,264.5 L259.6,263.0 L259.8,263.4 L260.0,275.6 L260.2,273.6 L260.4,268.8 L260.6,271.8 L260.8,268.0 L261.0,274.9 L261.2,273.7 L261.4,260.9 L261.6,256.8 L261.8,254.8 L262.0,270.8 L262.2,285.7 L262.4,275.9 L262.6,287.9 L262.8,297.9 L263.0,285.2 L263.2,291.1 L263.4,258.7 L263.6,272.8 L263.8,266.5 L264.0,274.4 L264.2,286.5 L264.4,276.9 L264.6,291.0 L264.8,285.7 L265.0,279.0 L265.2,287.7 L265.4,289.9 L265.6,281.2 L265.8,276.5 L266.0,299.4 L266.2,289.7 L266.4,285.7 L266.6,283.7 L266.8,283.8 L267.0,294.2 L267.2,281.2 L267.4,290.1 L267.6,288.6 L267.8,297.7 L268.0,297.0 L268.2,278.1 L268.4,276.9 L268.6,282.9 L268.8,281.0 L269.0,273.6 L269.2,297.6 L269.4,298.4 L269.6,290.4 L269.8,284.5 L270.0,285.8 L270.2,288.6 L270.4,279.6 L270.6,287.6 L270.8,269.9 L271.0,277.7 L271.2,292.4 L271.4,301.9 L271.6,284.6 L271.8,271.3 L272.0,278.7 L272.2,266.2 L272.4,275.9 L272.6,303.8 L272.8,273.9 L273.0,290.5 L273.2,277.6 L273.4,285.7 L273.6,269.9 L273.8,267.4 L274.0,272.0 L274.2,291.8 L274.4,270.0 L274.6,275.1 L274.8,262.1 L275.0,265.8 L275.2,280.5 L275.4,261.7 L275.6,264.5 L275.8,265.2 L276.0,267.7 L276.2,271.0 L276.4,269.2 L276.6,275.9 L276.8,280.5 L277.0,290.9 L277.2,304.3 L277.4,278.3 L277.6,265.2 L277.8,304.4 L278.0,285.3 L278.2,298.1 L278.4,267.3 L278.6,277.0 L278.8,264.2 L279.0,262.6 L279.2,284.8 L279.4,275.1 L279.6,264.9 L279.8,284.7 L280.0,277.0 L280.2,301.3 L280.4,291.1 L280.6,282.4 L280.8,282.4 L281.0,273.3 L281.2,278.0 L281.4,281.7 L281.6,276.5 L281.8,294.6 L282.0,266.5 L282.2,272.8 L282.4,285.4 L282.6,290.7 L282.8,268.9 L283.0,279.6 L283.2,290.0 L283.4,277.9 L283.6,268.0 L283.8,277.3 L284.0,274.8 L284.2,274.0 L284.4,276.6 L284.6,280.0 L284.8,282.4 L285.0,279.6 L285.2,292.3 L285.4,292.3 L285.6,269.9 L285.8,283.4 L286.0,285.7 L286.2,283.6 L286.4,290.6 L286.6,282.2 L286.8,292.7 L287.0,284.9 L287.2,286.9 L287.4,292.4 L287.6,309.2 L287.8,299.7 L288.0,287.3 L288.2,294.0 L288.4,284.1 L288.6,281.1 L288.8,306.2 L289.0,296.6 L289.2,288.2 L289.4,266.0 L289.6,262.6 L289.8,289.0 L290.0,276.7 L290.2,287.2 L290.4,302.2 L290.6,289.3 L290.8,268.4 L291.0,293.4 L291.2,270.2 L291.4,295.9 L291.6,276.2 L291.8,283.7 L292.0,291.1 L292.2,290.2 L292.4,267.8 L292.6,289.1 L292.8,271.9 L293.0,304.0 L293.2,295.7 L293.4,274.4 L293.6,282.0 L293.8,283.7 L294.0,289.3 L294.2,284.7 L294.4,298.4 L294.6,275.6 L294.8,269.6 L295.0,290.7 L295.2,302.1 L295.4,300.0 L295.6,283.4 L295.8,301.7 L296.0,269.0 L296.2,281.5 L296.4,274.1 L296.6,294.5 L296.8,290.2 L297.0,264.8 L297.2,294.1 L297.4,300.1 L297.6,270.9 L297.8,285.4 L298.0,267.5 L298.2,293.5 L298.4,301.1 L298.6,288.8 L298.8,300.5 L299.0,296.0 L299.2,274.6 L299.4,280.0 L299.6,290.4 L299.8,292.5 L300.0,285.5 L300.2,281.3 L300.4,289.6 L300.6,279.4 L300.8,273.6 L301.0,295.7 L301.2,277.6 L301.4,281.3 L301.6,289.9 L301.8,285.6 L302.0,290.5 L302.2,296.5 L302.4,292.9 L302.6,288.7 L302.8,271.5 L303.0,284.4 L303.2,267.8 L303.4,288.1 L303.6,267.2 L303.8,282.6 L304.0,272.3 L304.2,280.6 L304.4,275.8 L304.6,294.3 L304.8,296.4 L305.0,292.5 L305.2,303.8 L305.4,301.7 L305.6,281.6 L305.8,310.7 L306.0,286.5 L306.2,291.1 L306.4,305.2 L306.6,297.8 L306.8,280.1 L307.0,271.0 L307.2,287.1 L307.4,276.3 L307.6,288.5 L307.8,271.7 L308.0,291.8 L308.2,290.0 L308.4,296.4 L308.6,287.5 L308.8,279.4 L309.0,279.5 L309.2,277.3 L309.4,294.0 L309.6,287.8 L309.8,294.7 L310.0,293.9 L310.2,297.4 L310.4,269.9 L310.6,275.6 L310.8,295.2 L311.0,284.9 L311.2,264.1 L311.4,279.2 L311.6,286.5 L311.8,269.1 L312.0,265.7 L312.2,284.6 L312.4,309.6 L312.6,294.3 L312.8,275.3 L313.0,277.2 L313.2,300.5 L313.4,288.2 L313.6,286.5 L313.8,280.0 L314.0,268.2 L314.2,267.1 L314.4,300.4 L314.6,276.1 L314.8,297.9 L315.0,280.6 L315.2,281.1 L315.4,280.4 L315.6,280.4 L315.8,290.8 L316.0,275.3 L316.2,275.4 L316.4,271.3 L316.6,278.9 L316.8,290.7 L317.0,302.9 L317.2,303.9 L317.4,280.3 L317.6,269.7 L317.8,287.5 L318.0,290.2 L318.2,295.8 L318.4,274.6 L318.6,295.8 L318.8,283.0 L319.0,279.6 L319.2,278.8 L319.4,261.2 L319.6,274.8 L319.8,272.3 L320.0,278.4 L320.2,283.3 L320.4,285.1 L320.6,273.5 L320.8,299.8 L321.0,279.3 L321.2,264.4 L321.4,271.7 L321.6,277.9 L321.8,275.6 L322.0,267.5 L322.2,281.4 L322.4,262.5 L322.6,267.1 L322.8,281.4 L323.0,282.4 L323.2,279.2 L323.4,277.2 L323.6,285.4 L323.8,297.2 L324.0,265.3 L324.2,260.1 L324.4,282.6 L324.6,270.0 L324.8,272.8 L325.0,273.7 L325.2,264.6 L325.4,279.3 L325.6,297.2 L325.8,280.2 L326.0,283.8 L326.2,268.6 L326.4,286.9 L326.6,295.2 L326.8,266.1 L327.0,277.2 L327.2,279.3 L327.4,268.9 L327.6,297.6 L327.8,291.6 L328.0,276.3 L328.2,305.2 L328.4,299.1 L328.6,288.6 L328.8,274.6 L329.0,295.7 L329.2,294.3 L329.4,289.1 L329.6,266.8 L329.8,283.6 L330.0,270.8 L330.2,277.3 L330.4,268.4 L330.6,270.6 L330.8,300.4 L331.0,282.6 L331.2,275.8 L331.4,288.3 L331.6,268.9 L331.8,299.9 L332.0,282.7 L332.2,269.0 L332.4,307.5 L332.6,282.5 L332.8,286.3 L333.0,270.7 L333.2,276.9 L333.4,275.1 L333.6,289.6 L333.8,270.6 L334.0,271.7 L334.2,277.1 L334.4,273.1 L334.6,275.4 L334.8,292.2 L335.0,306.3 L335.2,270.4 L335.4,298.7 L335.6,287.0 L335.8,283.9 L336.0,295.7 L336.2,297.5 L336.4,266.1 L336.6,287.1 L336.8,283.3 L337.0,275.0 L337.2,278.1 L337.4,257.4 L337.6,281.4 L337.8,295.9 L338.0,266.2 L338.2,262.7 L338.4,263.0 L338.6,266.6 L338.8,300.0 L339.0,291.1 L339.2,292.3 L339.4,276.9 L339.6,301.3 L339.8,277.2 L340.0,291.5 L340.2,284.2 L340.4,288.1 L340.6,273.9 L340.8,284.6 L341.0,265.7 L341.2,301.4 L341.4,293.5 L341.6,278.8 L341.8,287.2 L342.0,268.8 L342.2,263.5 L342.4,270.0 L342.6,285.6 L342.8,285.2 L343.0,286.8 L343.2,285.1 L343.4,262.7 L343.6,274.6 L343.8,281.2 L344.0,291.6 L344.2,258.2 L344.4,262.4 L344.6,267.6 L344.8,257.6 L345.0,264.2 L345.2,272.4 L345.4,287.6 L345.6,286.2 L345.8,275.6 L346.0,286.2 L346.2,271.0 L346.4,269.7 L346.6,287.5 L346.8,285.9 L347.0,293.5 L347.2,284.7 L347.4,272.8 L347.6,272.7 L347.8,285.2 L348.0,293.8 L348.2,278.8 L348.4,295.7 L348.6,289.4 L348.8,289.3 L349.0,276.5 L349.2,273.1 L349.4,281.0 L349.6,288.1 L349.8,278.9 L350.0,297.8 L350.2,273.5 L350.4,295.5 L350.6,286.0 L350.8,294.6 L351.0,270.2 L351.2,260.0 L351.4,296.1 L351.6,271.0 L351.8,283.4 L352.0,265.8 L352.2,305.0 L352.4,285.1 L352.6,278.0 L352.8,276.8 L353.0,271.7 L353.2,291.2 L353.4,279.7 L353.6,269.5 L353.8,266.8 L354.0,271.4 L354.2,276.2 L354.4,277.3 L354.6,276.9 L354.8,273.1 L355.0,286.3 L355.2,286.7 L355.4,268.1 L355.6,271.6 L355.8,296.5 L356.0,294.0 L356.2,275.7 L356.4,286.2 L356.6,298.6 L356.8,288.4 L357.0,267.3 L357.2,275.0 L357.4,282.1 L357.6,276.3 L357.8,281.6 L358.0,283.0 L358.2,277.5 L358.4,274.0 L358.6,274.2 L358.8,288.4 L359.0,285.3 L359.2,289.1 L359.4,282.1 L359.6,269.4 L359.8,289.3 L360.0,279.9 L360.2,273.5 L360.4,303.4 L360.6,294.3 L360.8,277.1 L361.0,276.5 L361.2,271.9 L361.4,279.4 L361.6,294.5 L361.8,285.4 L362.0,287.5 L362.2,289.9 L362.4,295.5 L362.6,288.3 L362.8,278.3 L363.0,273.5 L363.2,284.3 L363.4,283.4 L363.6,287.2 L363.8,288.2 L364.0,287.7 L364.2,289.8 L364.4,265.3 L364.6,260.9 L364.8,270.6 L365.0,268.3 L365.2,262.2 L365.4,259.6 L365.6,270.7 L365.8,263.4 L366.0,263.1 L366.2,284.9 L366.4,304.8 L366.6,269.3 L366.8,264.1 L367.0,279.4 L367.2,282.4 L367.4,274.9 L367.6,263.9 L367.8,295.3 L368.0,279.1 L368.2,269.3 L368.4,275.0 L368.6,279.7 L368.8,289.7 L369.0,264.1 L369.2,273.9 L369.4,282.1 L369.6,284.9 L369.8,293.0 L370.0,288.8 L370.2,280.9 L370.4,281.9 L370.6,271.3 L370.8,266.3 L371.0,286.5 L371.2,282.0 L371.4,290.5 L371.6,268.9 L371.8,302.5 L372.0,284.3 L372.2,279.4 L372.4,274.8 L372.6,283.9 L372.8,269.4 L373.0,273.4 L373.2,300.9 L373.4,285.9 L373.6,292.4 L373.8,278.6 L374.0,294.0 L374.2,283.1 L374.4,278.3 L374.6,275.0 L374.8,295.1 L375.0,283.5 L375.2,271.0 L375.4,290.1 L375.6,288.5 L375.8,278.0 L376.0,261.5 L376.2,285.0 L376.4,270.9 L376.6,289.1 L376.8,278.2 L377.0,292.1 L377.2,271.4 L377.4,279.4 L377.6,286.3 L377.8,291.7 L378.0,287.8 L378.2,286.8 L378.4,284.2 L378.6,288.1 L378.8,299.3 L379.0,279.5 L379.2,278.1 L379.4,263.2 L379.6,260.2 L379.8,282.1 L380.0,255.9 L380.2,285.6 L380.4,283.8 L380.6,280.8 L380.8,282.5 L381.0,289.5 L381.2,301.4 L381.4,284.9 L381.6,301.1 L381.8,285.4 L382.0,305.9 L382.2,284.6 L382.4,300.9 L382.6,285.4 L382.8,286.6 L383.0,279.5 L383.2,298.7 L383.4,280.2 L383.6,285.4 L383.8,284.8 L384.0,277.4 L384.2,290.9 L384.4,280.6 L384.6,273.7 L384.8,276.8 L385.0,291.2 L385.2,286.6 L385.4,308.2 L385.6,292.7 L385.8,277.3 L386.0,273.1 L386.2,280.7 L386.4,299.7 L386.6,288.9 L386.8,296.2 L387.0,299.2 L387.2,295.4 L387.4,264.3 L387.6,270.1 L387.8,275.3 L388.0,275.5 L388.2,267.2 L388.4,288.4 L388.6,284.4 L388.8,298.4 L389.0,306.0 L389.2,296.7 L389.4,286.1 L389.6,292.0 L389.8,300.9 L390.0,276.9 L390.2,270.5 L390.4,298.5 L390.6,290.2 L390.8,266.3 L391.0,287.5 L391.2,286.1 L391.4,295.8 L391.6,304.0 L391.8,296.2 L392.0,263.4 L392.2,281.3 L392.4,286.3 L392.6,266.7 L392.8,290.9 L393.0,285.1 L393.2,294.5 L393.4,294.9 L393.6,292.9 L393.8,289.0 L394.0,285.6 L394.2,282.9 L394.4,274.2 L394.6,278.8 L394.8,304.4 L395.0,294.2 L395.2,302.9 L395.4,292.0 L395.6,299.4 L395.8,281.3 L396.0,271.6 L396.2,289.2 L396.4,274.4 L396.6,290.8 L396.8,269.4 L397.0,264.7 L397.2,279.2 L397.4,273.9 L397.6,278.2 L397.8,291.5 L398.0,298.4 L398.2,286.5 L398.4,272.2 L398.6,273.7 L398.8,289.2 L399.0,275.4 L399.2,273.1 L399.4,258.6 L399.6,262.1 L399.8,285.7 L400.0,298.0 L400.2,274.5 L400.4,281.8 L400.6,284.2 L400.8,261.5 L401.0,278.7 L401.2,270.9 L401.4,292.1 L401.6,258.3 L401.8,277.3 L402.0,273.9 L402.2,281.7 L402.4,264.8 L402.6,263.4 L402.8,276.1 L403.0,296.0 L403.2,288.0 L403.4,275.7 L403.6,286.5 L403.8,270.4 L404.0,284.2 L404.2,274.9 L404.4,266.7 L404.6,292.5 L404.8,261.1 L405.0,262.1 L405.2,264.6 L405.4,271.2 L405.6,281.1 L405.8,258.9 L406.0,292.4 L406.2,286.6 L406.4,275.4 L406.6,291.7 L406.8,293.3 L407.0,277.1 L407.2,289.0 L407.4,280.5 L407.6,294.6 L407.8,268.5 L408.0,267.6 L408.2,271.2 L408.4,292.0 L408.6,279.7 L408.8,278.0 L409.0,264.8 L409.2,272.5 L409.4,285.7 L409.6,280.6 L409.8,288.9 L410.0,278.5 L410.2,265.9 L410.4,294.0 L410.6,297.9 L410.8,258.1 L411.0,282.7 L411.2,269.1 L411.4,276.3 L411.6,273.2 L411.8,283.6 L412.0,296.3 L412.2,294.6 L412.4,276.0 L412.6,265.5 L412.8,265.6 L413.0,269.9 L413.2,271.2 L413.4,288.1 L413.6,281.5 L413.8,268.3 L414.0,271.2 L414.2,288.4 L414.4,298.2 L414.6,281.1 L414.8,276.2 L415.0,271.5 L415.2,282.3 L415.4,285.8 L415.6,276.0 L415.8,274.6 L416.0,288.5 L416.2,272.5 L416.4,284.4 L416.6,265.1 L416.8,297.3 L417.0,285.5 L417.2,289.8 L417.4,290.1 L417.7,296.5 L417.9,287.4 L418.1,274.4 L418.3,287.0 L418.5,276.9 L418.7,266.9 L418.9,282.7 L419.1,290.1 L419.3,271.2 L419.5,291.8 L419.7,282.3 L419.9,273.8 L420.1,275.7 L420.3,276.2 L420.5,277.9 L420.7,271.9 L420.9,281.5 L421.1,280.9 L421.3,271.9 L421.5,274.5 L421.7,291.5 L421.9,277.0 L422.1,290.8 L422.3,291.0 L422.5,292.7 L422.7,272.4 L422.9,274.0 L423.1,277.6 L423.3,291.8 L423.5,262.6 L423.7,268.3 L423.9,260.4 L424.1,262.0 L424.3,289.8 L424.5,283.0 L424.7,271.1 L424.9,273.4 L425.1,284.1 L425.3,299.6 L425.5,265.7 L425.7,273.9 L425.9,278.5 L426.1,258.6 L426.3,277.9 L426.5,287.4 L426.7,280.6 L426.9,279.2 L427.1,285.2 L427.3,279.5 L427.5,273.7 L427.7,277.7 L427.9,275.3 L428.1,279.5 L428.3,275.3 L428.5,280.8 L428.7,267.9 L428.9,271.0 L429.1,263.7 L429.3,281.0 L429.5,278.6 L429.7,284.6 L429.9,261.7 L430.1,267.3 L430.3,284.7 L430.5,272.1 L430.7,287.0 L430.9,268.8 L431.1,286.9 L431.3,270.5 L431.5,262.8 L431.7,296.7 L431.9,269.5 L432.1,263.3 L432.3,286.1 L432.5,292.1 L432.7,276.1 L432.9,289.5 L433.1,304.4 L433.3,274.2 L433.5,284.4 L433.7,267.4 L433.9,277.1 L434.1,271.9 L434.3,291.2 L434.5,306.8 L434.7,267.8 L434.9,273.0 L435.1,275.8 L435.3,269.2 L435.5,264.8 L435.7,286.8 L435.9,295.7 L436.1,295.7 L436.3,284.4 L436.5,285.3 L436.7,269.1 L436.9,261.8 L437.1,291.2 L437.3,284.4 L437.5,289.7 L437.7,269.9 L437.9,300.4 L438.1,302.4 L438.3,276.3 L438.5,281.6 L438.7,286.7 L438.9,283.8 L439.1,264.2 L439.3,278.9 L439.5,265.6 L439.7,274.3 L439.9,269.5 L440.1,285.3 L440.3,260.9 L440.5,292.6 L440.7,255.3 L440.9,264.5 L441.1,299.3 L441.3,279.4 L441.5,275.6 L441.7,288.6 L441.9,273.2 L442.1,266.9 L442.3,285.9 L442.5,290.9 L442.7,277.7 L442.9,268.9 L443.1,299.7 L443.3,286.6 L443.5,261.6 L443.7,265.9 L443.9,266.9 L444.1,262.2 L444.3,263.5 L444.5,286.0 L444.7,294.5 L444.9,270.7 L445.1,272.1 L445.3,276.1 L445.5,273.7 L445.7,284.0 L445.9,273.3 L446.1,298.8 L446.3,288.3 L446.5,275.9 L446.7,288.1 L446.9,291.0 L447.1,285.1 L447.3,268.4 L447.5,282.3 L447.7,265.8 L447.9,289.1 L448.1,269.6 L448.3,276.6 L448.5,276.8 L448.7,273.4 L448.9,268.1 L449.1,268.0 L449.3,273.0 L449.5,265.3 L449.7,259.5 L449.9,268.8 L450.1,288.7 L450.3,279.9 L450.5,293.3 L450.7,290.5 L450.9,285.7 L451.1,287.2 L451.3,259.2 L451.5,278.9 L451.7,262.8 L451.9,294.4 L452.1,259.8 L452.3,273.7 L452.5,285.6 L452.7,271.2 L452.9,278.2 L453.1,268.9 L453.3,257.4 L453.5,282.1 L453.7,280.5 L453.9,263.1 L454.1,291.6 L454.3,270.8 L454.5,290.4 L454.7,276.8 L454.9,257.8 L455.1,264.6 L455.3,295.4 L455.5,293.6 L455.7,278.1 L455.9,298.6 L456.1,263.7 L456.3,264.0 L456.5,304.4 L456.7,283.8 L456.9,290.0 L457.1,268.5 L457.3,299.6 L457.5,293.5 L457.7,303.6 L457.9,297.3 L458.1,268.0 L458.3,304.2 L458.5,284.8 L458.7,271.9 L458.9,299.8 L459.1,276.1 L459.3,271.3 L459.5,266.5 L459.7,268.9 L459.9,269.1 L460.1,263.6 L460.3,265.3 L460.5,288.0 L460.7,283.0 L460.9,271.4 L461.1,287.2 L461.3,281.8 L461.5,268.4 L461.7,269.1 L461.9,270.8 L462.1,263.1 L462.3,272.8 L462.5,289.9 L462.7,291.6 L462.9,292.8 L463.1,293.8 L463.3,295.4 L463.5,269.7 L463.7,290.5 L463.9,261.9 L464.1,279.9 L464.3,275.2 L464.5,262.5 L464.7,283.7 L464.9,279.0 L465.1,277.9 L465.3,292.6 L465.5,289.0 L465.7,268.5 L465.9,293.3 L466.1,282.7 L466.3,291.7 L466.5,288.4 L466.7,289.8 L466.9,279.9 L467.1,279.0 L467.3,282.6 L467.5,273.0 L467.7,267.2 L467.9,276.5 L468.1,272.6 L468.3,292.9 L468.5,273.3 L468.7,290.8 L468.9,282.0 L469.1,281.4 L469.3,263.7 L469.5,291.7 L469.7,275.5 L469.9,269.7 L470.1,271.6 L470.3,288.9 L470.5,267.1 L470.7,279.7 L470.9,268.3 L471.1,264.6 L471.3,294.8 L471.5,300.4 L471.7,290.4 L471.9,268.5 L472.1,270.8 L472.3,285.6 L472.5,264.4 L472.7,298.1 L472.9,288.3 L473.1,284.1 L473.3,302.7 L473.5,291.1 L473.7,281.2 L473.9,283.2 L474.1,276.6 L474.3,298.0 L474.5,276.4 L474.7,280.8 L474.9,276.9 L475.1,278.5 L475.3,277.4 L475.5,277.9 L475.7,280.8 L475.9,282.3 L476.1,295.4 L476.3,282.3 L476.5,276.3 L476.7,299.5 L476.9,271.8 L477.1,265.2 L477.3,263.3 L477.5,294.5 L477.7,291.8 L477.9,284.4 L478.1,296.3 L478.3,278.1 L478.5,273.6 L478.7,291.6 L478.9,273.5 L479.1,284.9 L479.3,284.7 L479.5,271.5 L479.7,285.2 L479.9,287.4 L480.1,272.4 L480.3,278.3 L480.5,290.6 L480.7,284.5 L480.9,285.6 L481.1,294.5 L481.3,269.0 L481.5,291.8 L481.7,290.0 L481.9,294.2 L482.1,299.3 L482.3,280.7 L482.5,289.1 L482.7,287.8 L482.9,263.9 L483.1,300.3 L483.3,282.7 L483.5,274.4 L483.7,291.3 L483.9,280.7 L484.1,290.9 L484.3,278.3 L484.5,274.0 L484.7,285.0 L484.9,298.0 L485.1,299.2 L485.3,293.3 L485.5,271.4 L485.7,298.1 L485.9,275.8 L486.1,295.7 L486.3,297.6 L486.5,292.5 L486.7,297.4 L486.9,298.9 L487.1,267.7 L487.3,294.5 L487.5,285.4 L487.7,298.4 L487.9,307.6 L488.1,293.8 L488.3,279.1 L488.5,278.3 L488.7,289.6 L488.9,300.2 L489.1,270.4 L489.3,277.8 L489.5,284.5 L489.7,289.5 L489.9,280.5 L490.1,300.0 L490.3,279.9 L490.5,276.4 L490.7,276.5 L490.9,302.0 L491.1,292.5 L491.3,270.5 L491.5,274.2 L491.7,282.8 L491.9,295.4 L492.1,288.1 L492.3,297.6 L492.5,284.5 L492.7,296.4 L492.9,290.2 L493.1,296.5 L493.3,267.0 L493.5,293.4 L493.7,300.5 L493.9,266.9 L494.1,278.8 L494.3,274.0 L494.5,286.1 L494.7,304.9 L494.9,282.0 L495.1,266.4 L495.3,272.8 L495.5,272.0 L495.7,285.1 L495.9,266.9 L496.1,291.2 L496.3,288.8 L496.5,288.4 L496.7,266.6 L496.9,259.0 L497.1,273.0 L497.3,258.2 L497.5,298.9 L497.7,273.4 L497.9,299.2 L498.1,279.9 L498.3,287.2 L498.5,278.2 L498.7,272.8 L498.9,291.0 L499.1,300.3 L499.3,298.5 L499.5,302.1 L499.7,299.5 L499.9,288.8 L500.1,270.8 L500.3,306.8 L500.5,255.2 L500.7,283.2 L500.9,281.4 L501.1,289.6 L501.3,284.5 L501.5,285.6 L501.7,301.0 L501.9,268.2 L502.1,294.0 L502.3,282.4 L502.5,289.4 L502.7,268.1 L502.9,293.8 L503.1,285.2 L503.3,280.6 L503.5,284.4 L503.7,292.1 L503.9,295.7 L504.1,267.4 L504.3,276.3 L504.5,271.8 L504.7,300.6 L504.9,276.3 L505.1,278.4 L505.3,263.6 L505.5,305.8 L505.7,257.7 L505.9,277.7 L506.1,269.2 L506.3,292.2 L506.5,291.1 L506.7,287.2 L506.9,290.8 L507.1,277.0 L507.3,260.8 L507.5,290.3 L507.7,283.3 L507.9,278.0 L508.1,265.8 L508.3,277.2 L508.5,278.1 L508.7,278.5 L508.9,270.5 L509.1,280.4 L509.3,290.7 L509.5,277.7 L509.7,273.2 L509.9,265.2 L510.1,277.8 L510.3,271.3 L510.5,276.4 L510.7,284.5 L510.9,272.8 L511.1,300.0 L511.3,290.2 L511.5,262.5 L511.7,270.0 L511.9,283.7 L512.1,278.5 L512.3,271.7 L512.5,268.3 L512.7,267.2 L512.9,284.9 L513.1,290.0 L513.3,261.3 L513.5,275.3 L513.7,283.6 L513.9,268.7 L514.1,262.2 L514.3,287.6 L514.5,262.5 L514.7,265.7 L514.9,265.0 L515.1,283.9 L515.3,270.2 L515.5,266.9 L515.7,264.1 L515.9,274.3 L516.1,260.8 L516.3,270.0 L516.5,293.4 L516.7,289.9 L516.9,274.0 L517.1,278.8 L517.3,284.6 L517.5,279.8 L517.7,267.8 L517.9,273.0 L518.1,283.4 L518.3,268.2 L518.5,280.2 L518.7,275.8 L518.9,267.6 L519.1,266.1 L519.3,294.3 L519.5,261.5 L519.7,275.4 L519.9,278.1 L520.1,279.4 L520.3,263.7 L520.5,272.9 L520.7,260.9 L520.9,276.6 L521.1,258.0 L521.3,268.1 L521.5,285.2 L521.7,280.7 L521.9,285.1 L522.1,283.0 L522.3,278.6 L522.5,271.1 L522.7,282.6 L522.9,266.2 L523.1,277.9 L523.3,281.4 L523.5,270.3 L523.7,293.7 L523.9,259.9 L524.1,254.4 L524.3,271.3 L524.5,273.0 L524.7,274.9 L524.9,266.7 L525.1,274.5 L525.3,283.3 L525.5,272.5 L525.7,267.1 L525.9,291.3 L526.1,276.5 L526.3,280.3 L526.5,291.3 L526.7,292.2 L526.9,279.3 L527.1,276.5 L527.3,301.8 L527.5,287.3 L527.7,262.1 L527.9,267.0 L528.1,275.7 L528.3,287.6 L528.5,286.0 L528.7,258.3 L528.9,285.8 L529.1,274.2 L529.3,294.5 L529.5,291.4 L529.7,263.0 L529.9,283.6 L530.1,276.1 L530.3,290.0 L530.5,265.7 L530.7,272.6 L530.9,269.9 L531.1,298.3 L531.3,286.0 L531.5,275.9 L531.7,282.6 L531.9,286.3 L532.1,286.5 L532.3,296.1 L532.5,293.8 L532.7,301.5 L532.9,291.1 L533.1,279.8 L533.3,295.8 L533.5,281.5 L533.7,262.5 L533.9,283.1 L534.1,281.2 L534.3,269.2 L534.5,270.7 L534.7,273.3 L534.9,269.5 L535.1,262.0 L535.3,259.6 L535.5,274.2 L535.7,275.5 L535.9,270.5 L536.1,264.7 L536.3,272.9 L536.5,271.2 L536.7,271.2 L536.9,300.2 L537.1,268.8 L537.3,268.0 L537.5,279.5"/>
<path class="c" stroke="#0f0" d="M57.5,289.0 L57.7,288.6 L57.9,281.0 L58.1,286.9 L58.3,276.0 L58.5,287.8 L58.7,282.3 L58.9,285.3 L59.1,284.8 L59.3,287.7 L59.5,292.8 L59.7,282.6 L59.9,290.6 L60.1,268.6 L60.3,290.7 L60.5,279.8 L60.7,272.9 L60.9,297.0 L61.1,296.2 L61.3,281.7 L61.5,270.4 L61.7,274.1 L61.9,291.9 L62.1,298.4 L62.3,272.9 L62.5,285.0 L62.7,290.4 L62.9,289.6 L63.1,268.4 L63.3,276.5 L63.5,290.1 L63.7,285.9 L63.9,284.7 L64.1,278.8 L64.3,273.3 L64.5,282.6 L64.7,281.4 L64.9,273.0 L65.1,285.1 L65.3,276.3 L65.5,294.4 L65.7,291.2 L65.9,280.6 L66.1,284.6 L66.3,264.4 L66.5,281.2 L66.7,278.5 L66.9,260.3 L67.1,277.1 L67.3,284.2 L67.5,280.3 L67.7,275.5 L67.9,294.1 L68.1,279.5 L68.3,294.6 L68.5,287.3 L68.7,265.0 L68.9,264.7 L69.1,264.8 L69.3,289.4 L69.5,267.6 L69.7,274.3 L69.9,283.5 L70.1,279.3 L70.3,294.2 L70.5,290.2 L70.7,294.6 L70.9,291.1 L71.1,295.5 L71.3,275.0 L71.5,287.6 L71.7,277.4 L71.9,293.5 L72.1,265.3 L72.3,283.9 L72.5,271.0 L72.7,263.7 L72.9,297.8 L73.1,292.1 L73.3,282.8 L73.5,289.0 L73.7,271.1 L73.9,284.7 L74.1,273.4 L74.3,285.4 L74.5,287.5 L74.7,277.6 L74.9,293.8 L75.1,274.6 L75.3,305.4 L75.5,295.5 L75.7,270.2 L75.9,298.7 L76.1,275.0 L76.3,288.0 L76.5,294.8 L76.7,293.2 L76.9,268.6 L77.1,303.1 L77.3,284.1 L77.5,291.3 L77.7,293.2 L77.9,291.0 L78.1,280.1 L78.3,297.4 L78.5,292.5 L78.7,282.1 L78.9,296.1 L79.1,296.0 L79.3,296.1 L79.5,283.6 L79.7,267.0 L79.9,285.7 L80.1,289.2 L80.3,275.8 L80.5,281.1 L80.7,298.1 L80.9,295.4 L81.1,292.1 L81.3,269.8 L81.5,267.3 L81.7,273.5 L81.9,288.3 L82.1,272.4 L82.3,284.0 L82.5,280.1 L82.7,291.2 L82.9,296.3 L83.1,289.4 L83.3,288.2 L83.5,285.7 L83.7,276.1 L83.9,291.3 L84.1,277.9 L84.3,293.3 L84.5,277.8 L84.7,278.2 L84.9,287.7 L85.1,288.7 L85.3,284.5 L85.5,284.8 L85.7,293.7 L85.9,276.9 L86.1,296.3 L86.3,301.6 L86.5,280.2 L86.7,282.3 L86.9,282.5 L87.1,277.5 L87.3,282.3 L87.5,270.3 L87.7,272.3 L87.9,281.8 L88.1,295.2 L88.3,294.2 L88.5,283.8 L88.7,300.7 L88.9,285.8 L89.1,284.4 L89.3,288.3 L89.5,299.7 L89.7,291.3 L89.9,294.8 L90.1,275.7 L90.3,291.5 L90.5,286.4 L90.7,294.0 L90.9,292.7 L91.1,293.6 L91.3,280.3 L91.5,282.1 L91.7,280.5 L91.9,273.5 L92.1,286.1 L92.3,280.7 L92.5,278.4 L92.7,300.0 L92.9,280.2 L93.1,286.2 L93.3,278.6 L93.5,280.0 L93.7,291.4 L93.9,298.5 L94.1,282.3 L94.3,271.8 L94.5,282.7 L94.7,291.7 L94.9,292.7 L95.1,278.3 L95.3,279.0 L95.5,294.8 L95.7,287.0 L95.9,291.1 L96.1,277.2 L96.3,291.0 L96.5,288.9 L96.7,282.8 L96.9,279.1 L97.1,277.4 L97.3,275.5 L97.5,279.5 L97.7,269.4 L97.9,302.6 L98.1,295.1 L98.3,278.1 L98.5,298.5 L98.7,287.3 L98.9,300.8 L99.1,283.5 L99.3,271.7 L99.5,273.1 L99.7,293.1 L99.9,288.1 L100.1,281.0 L100.3,282.3 L100.5,293.1 L100.7,295.8 L100.9,274.8 L101.1,285.6 L101.3,294.0 L101.5,273.4 L101.7,290.3 L101.9,284.3 L102.1,278.5 L102.3,294.0 L102.5,278.3 L102.7,298.0 L102.9,282.0 L103.1,287.1 L103.3,273.6 L103.5,291.8 L103.7,280.8 L103.9,295.1 L104.1,287.3 L104.3,290.2 L104.5,293.9 L104.7,279.5 L104.9,281.4 L105.1,294.0 L105.3,287.8 L105.5,277.8 L105.7,294.4 L105.9,303.7 L106.1,292.8 L106.3,280.3 L106.5,292.4 L106.7,297.8 L106.9,297.8 L107.1,286.9 L107.3,287.9 L107.5,306.1 L107.7,276.7 L107.9,279.9 L108.1,289.9 L108.3,295.6 L108.5,287.1 L108.7,298.2 L108.9,290.9 L109.1,298.0 L109.3,301.8 L109.5,271.9 L109.7,295.5 L109.9,290.1 L110.1,294.3 L110.3,291.4 L110.5,282.8 L110.7,298.3 L110.9,286.6 L111.1,284.6 L111.3,290.2 L111.5,300.3 L111.7,287.8 L111.9,287.9 L112.1,276.2 L112.3,310.4 L112.5,287.6 L112.7,280.7 L112.9,273.7 L113.1,294.6 L113.3,286.6 L113.5,284.1 L113.7,292.7 L113.9,287.9 L114.1,303.3 L114.3,287.9 L114.5,289.6 L114.7,276.3 L114.9,275.3 L115.1,290.2 L115.3,295.1 L115.5,287.7 L115.7,289.5 L115.9,284.2 L116.1,281.5 L116.3,277.7 L116.5,278.9 L116.7,286.5 L116.9,284.4 L117.1,284.5 L117.3,303.5 L117.5,297.7 L117.7,275.3 L117.9,302.4 L118.1,294.0 L118.3,292.1 L118.5,283.5 L118.7,308.6 L118.9,280.4 L119.1,277.4 L119.3,304.1 L119.5,299.9 L119.7,294.9 L119.9,282.9 L120.1,287.6 L120.3,282.1 L120.5,283.2 L120.7,299.1 L120.9,293.9 L121.1,270.0 L121.3,294.9 L121.5,284.9 L121.7,296.6 L121.9,302.2 L122.1,301.4 L122.3,292.3 L122.5,291.9 L122.7,283.8 L122.9,304.0 L123.1,295.1 L123.3,286.5 L123.5,306.9 L123.7,289.8 L123.9,294.4 L124.1,299.9 L124.3,286.5 L124.5,298.6 L124.7,272.2 L124.9,285.2 L125.1,275.3 L125.3,288.7 L125.5,294.9 L125.7,288.8 L125.9,303.5 L126.1,310.2 L126.3,281.6 L126.5,277.3 L126.7,283.7 L126.9,275.3 L127.1,294.9 L127.3,284.3 L127.5,304.3 L127.7,301.2 L127.9,291.5 L128.1,279.9 L128.3,304.1 L128.5,286.1 L128.7,293.4 L128.9,307.9 L129.1,309.1 L129.3,305.8 L129.5,285.5 L129.7,301.6 L129.9,288.1 L130.1,289.0 L130.3,275.7 L130.5,282.9 L130.7,300.2 L130.9,291.5 L131.1,297.3 L131.3,298.1 L131.5,298.9 L131.7,297.7 L131.9,298.2 L132.1,292.8 L132.3,277.4 L132.5,280.2 L132.7,307.0 L132.9,290.5 L133.1,269.4 L133.3,294.9 L133.5,292.6 L133.7,288.2 L133.9,293.6 L134.1,294.4 L134.3,276.5 L134.5,308.4 L134.7,292.8 L134.9,281.0 L135.1,295.0 L135.3,287.9 L135.5,291.5 L135.7,281.6 L135.9,297.5 L136.1,278.9 L136.3,295.3 L136.5,294.7 L136.7,297.3 L136.9,293.6 L137.1,284.5 L137.3,296.2 L137.5,286.7 L137.7,295.9 L137.9,282.7 L138.1,275.9 L138.3,278.2 L138.5,289.6 L138.7,302.3 L138.9,296.0 L139.1,296.1 L139.3,298.4 L139.5,297.7 L139.7,293.7 L139.9,298.3 L140.1,295.2 L140.3,287.6 L140.5,294.0 L140.7,300.5 L140.9,307.1 L141.1,302.8 L141.3,289.7 L141.5,282.0 L141.7,304.5 L141.9,287.6 L142.1,282.7 L142.3,304.1 L142.5,288.5 L142.7,282.0 L142.9,299.3 L143.1,300.8 L143.3,295.9 L143.5,300.6 L143.7,282.6 L143.9,276.3 L144.1,277.2 L144.3,272.1 L144.5,284.1 L144.7,299.9 L144.9,290.0 L145.1,300.4 L145.3,292.1 L145.5,300.4 L145.7,294.4 L145.9,295.1 L146.1,297.7 L146.3,300.9 L146.5,286.5 L146.7,290.2 L146.9,283.7 L147.1,294.9 L147.3,282.3 L147.5,274.7 L147.7,288.6 L147.9,307.8 L148.1,291.4 L148.3,286.3 L148.5,293.6 L148.7,298.7 L148.9,299.7 L149.1,294.4 L149.3,279.4 L149.5,278.0 L149.7,289.9 L149.9,282.8 L150.1,304.3 L150.3,291.5 L150.5,291.0 L150.7,293.5 L150.9,295.9 L151.1,288.6 L151.3,287.8 L151.5,285.5 L151.7,286.3 L151.9,281.8 L152.1,289.2 L152.3,284.9 L152.5,296.9 L152.7,282.8 L152.9,286.6 L153.1,294.2 L153.3,297.4 L153.5,247.9 L153.7,245.3 L153.9,246.3 L154.1,243.8 L154.3,245.1 L154.5,242.9 L154.7,243.4 L154.9,245.2 L155.1,242.6 L155.3,246.0 L155.5,246.4 L155.7,248.6 L155.9,244.7 L156.1,240.9 L156.3,244.1 L156.5,242.8 L156.7,243.1 L156.9,245.0 L157.1,243.7 L157.3,246.6 L157.5,244.6 L157.7,247.3 L157.9,244.5 L158.1,240.3 L158.3,245.4 L158.5,244.9 L158.7,242.6 L158.9,242.7 L159.1,241.8 L159.3,243.3 L159.5,242.0 L159.7,243.3 L159.9,243.3 L160.1,242.4 L160.3,242.5 L160.5,243.2 L160.7,242.9 L160.9,242.5 L161.1,244.9 L161.3,241.6 L161.5,241.9 L161.7,241.2 L161.9,245.2 L162.1,241.8 L162.3,242.7 L162.5,245.0 L162.7,242.2 L162.9,242.1 L163.1,239.6 L163.3,240.0 L163.5,241.9 L163.7,241.1 L163.9,242.6 L164.1,239.4 L164.3,239.1 L164.5,235.0 L164.7,236.3 L164.9,235.2 L165.1,234.5 L165.3,233.4 L165.5,233.8 L165.7,236.2 L165.9,237.6 L166.1,240.0 L166.3,234.0 L166.5,235.7 L166.7,232.4 L166.9,235.0 L167.1,234.0 L167.3,235.7 L167.5,230.5 L167.7,230.3 L167.9,230.1 L168.1,232.0 L168.3,227.0 L168.5,227.5 L168.7,232.9 L168.9,230.4 L169.1,232.5 L169.3,232.7 L169.5,229.1 L169.7,228.8 L169.9,228.2 L170.1,230.4 L170.3,227.5 L170.5,226.9 L170.7,226.6 L170.9,229.4 L171.1,227.7 L171.3,226.6 L171.5,228.8 L171.7,229.9 L171.9,224.3 L172.1,229.9 L172.3,229.1 L172.5,231.6 L172.7,231.0 L172.9,224.8 L173.1,225.6 L173.3,230.3 L173.5,225.7 L173.7,225.9 L173.9,229.5 L174.1,225.5 L174.3,229.2 L174.5,229.1 L174.7,229.1 L174.9,226.9 L175.1,227.1 L175.3,233.2 L175.5,231.0 L175.7,230.1 L175.9,227.3 L176.1,225.9 L176.3,228.8 L176.5,232.4 L176.7,227.9 L176.9,230.5 L177.1,228.9 L177.3,226.6 L177.6,230.8 L177.8,231.0 L178.0,232.7 L178.2,234.3 L178.4,230.6 L178.6,228.9 L178.8,233.5 L179.0,233.4 L179.2,236.2 L179.4,235.6 L179.6,235.7 L179.8,235.5 L180.0,233.1 L180.2,232.1 L180.4,234.5 L180.6,232.7 L180.8,238.0 L181.0,233.9 L181.2,237.3 L181.4,236.6 L181.6,234.4 L181.8,240.7 L182.0,238.0 L182.2,239.4 L182.4,241.0 L182.6,240.2 L182.8,238.3 L183.0,241.9 L183.2,237.0 L183.4,238.1 L183.6,244.3 L183.8,240.1 L184.0,241.4 L184.2,241.6 L184.4,246.4 L184.6,241.5 L184.8,244.2 L185.0,240.3 L185.2,245.1 L185.4,246.3 L185.6,246.6 L185.8,244.7 L186.0,241.9 L186.2,246.9 L186.4,243.1 L186.6,242.3 L186.8,250.5 L187.0,241.4 L187.2,247.8 L187.4,247.9 L187.6,246.5 L187.8,246.1 L188.0,245.3 L188.2,249.1 L188.4,242.3 L188.6,251.4 L188.8,248.8 L189.0,251.8 L189.2,251.2 L189.4,252.2 L189.6,250.5 L189.8,251.0 L190.0,253.2 L190.2,252.0 L190.4,257.3 L190.6,254.3 L190.8,250.8 L191.0,247.5 L191.2,256.7 L191.4,257.8 L191.6,252.9 L191.8,253.2 L192.0,260.8 L192.2,252.0 L192.4,255.6 L192.6,257.8 L192.8,254.3 L193.0,256.6 L193.2,256.1 L193.4,252.2 L193.6,253.8 L193.8,259.4 L194.0,262.9 L194.2,249.0 L194.4,260.5 L194.6,255.0 L194.8,254.6 L195.0,267.5 L195.2,260.5 L195.4,263.7 L195.6,267.7 L195.8,263.4 L196.0,261.7 L196.2,257.3 L196.4,252.9 L196.6,255.8 L196.8,260.1 L197.0,260.9 L197.2,257.4 L197.4,261.6 L197.6,266.6 L197.8,263.9 L198.0,266.2 L198.2,266.9 L198.4,268.7 L198.6,265.9 L198.8,269.6 L199.0,268.1 L199.2,259.3 L199.4,265.6 L199.6,271.8 L199.8,274.6 L200.0,275.6 L200.2,264.9 L200.4,268.4 L200.6,272.3 L200.8,274.0 L201.0,269.7 L201.2,268.9 L201.4,271.5 L201.6,272.7 L201.8,257.6 L202.0,267.9 L202.2,277.5 L202.4,271.3 L202.6,271.4 L202.8,265.3 L203.0,270.1 L203.2,276.9 L203.4,269.6 L203.6,272.4 L203.8,265.1 L204.0,271.9 L204.2,264.3 L204.4,270.2 L204.6,272.2 L204.8,260.2 L205.0,267.6 L205.2,270.4 L205.4,262.2 L205.6,265.1 L205.8,258.9 L206.0,272.7 L206.2,269.9 L206.4,266.7 L206.6,264.6 L206.8,267.7 L207.0,276.2 L207.2,276.3 L207.4,274.4 L207.6,268.2 L207.8,262.3 L208.0,263.8 L208.2,275.0 L208.4,261.3 L208.6,267.9 L208.8,272.4 L209.0,269.7 L209.2,278.1 L209.4,268.1 L209.6,280.2 L209.8,267.1 L210.0,270.0 L210.2,266.8 L210.4,275.2 L210.6,281.5 L210.8,262.7 L211.0,283.8 L211.2,277.4 L211.4,264.4 L211.6,262.1 L211.8,273.1 L212.0,268.3 L212.2,268.0 L212.4,266.3 L212.6,273.2 L212.8,264.6 L213.0,265.8 L213.2,279.0 L213.4,274.9 L213.6,261.7 L213.8,265.7 L214.0,271.1 L214.2,263.4 L214.4,263.1 L214.6,274.8 L214.8,281.4 L215.0,265.1 L215.2,272.4 L215.4,271.0 L215.6,266.2 L215.8,284.0 L216.0,276.1 L216.2,262.5 L216.4,270.1 L216.6,276.1 L216.8,279.5 L217.0,279.8 L217.2,284.1 L217.4,281.8 L217.6,280.0 L217.8,275.4 L218.0,280.2 L218.2,277.0 L218.4,275.2 L218.6,281.8 L218.8,275.6 L219.0,265.2 L219.2,282.6 L219.4,277.9 L219.6,268.1 L219.8,262.5 L220.0,266.1 L220.2,277.6 L220.4,281.4 L220.6,279.8 L220.8,270.3 L221.0,273.4 L221.2,283.1 L221.4,277.5 L221.6,275.2 L221.8,280.4 L222.0,266.0 L222.2,279.3 L222.4,270.7 L222.6,274.9 L222.8,275.0 L223.0,284.1 L223.2,272.9 L223.4,287.6 L223.6,280.3 L223.8,276.4 L224.0,276.9 L224.2,268.5 L224.4,283.1 L224.6,284.9 L224.8,278.5 L225.0,276.8 L225.2,266.6 L225.4,288.4 L225.6,272.1 L225.8,269.9 L226.0,273.0 L226.2,276.8 L226.4,277.9 L226.6,283.0 L226.8,269.0 L227.0,291.1 L227.2,289.3 L227.4,281.4 L227.6,291.1 L227.8,271.8 L228.0,277.1 L228.2,275.5 L228.4,277.8 L228.6,288.5 L228.8,281.7 L229.0,283.8 L229.2,287.9 L229.4,285.8 L229.6,287.4 L229.8,271.0 L230.0,286.5 L230.2,287.3 L230.4,276.9 L230.6,279.1 L230.8,277.3 L231.0,275.2 L231.2,271.2 L231.4,281.9 L231.6,265.6 L231.8,272.8 L232.0,268.5 L232.2,274.3 L232.4,288.8 L232.6,284.1 L232.8,277.9 L233.0,283.1 L233.2,263.9 L233.4,283.4 L233.6,273.5 L233.8,285.6 L234.0,264.9 L234.2,264.9 L234.4,280.6 L234.6,272.0 L234.8,270.2 L235.0,269.6 L235.2,293.1 L235.4,285.0 L235.6,273.0 L235.8,286.3 L236.0,289.6 L236.2,295.4 L236.4,281.5 L236.6,281.0 L236.8,297.2 L237.0,286.5 L237.2,290.4 L237.4,284.0 L237.6,277.7 L237.8,277.7 L238.0,281.6 L238.2,290.3 L238.4,281.1 L238.6,287.5 L238.8,275.3 L239.0,288.7 L239.2,273.5 L239.4,286.8 L239.6,286.6 L239.8,288.0 L240.0,273.8 L240.2,292.2 L240.4,273.3 L240.6,279.4 L240.8,284.3 L241.0,270.2 L241.2,280.6 L241.4,269.6 L241.6,290.1 L241.8,287.8 L242.0,289.3 L242.2,276.1 L242.4,284.2 L242.6,282.2 L242.8,279.7 L243.0,279.4 L243.2,276.6 L243.4,286.4 L243.6,280.2 L243.8,274.0 L244.0,283.5 L244.2,285.2 L244.4,283.7 L244.6,290.7 L244.8,297.7 L245.0,288.1 L245.2,277.1 L245.4,293.1 L245.6,280.2 L245.8,275.1 L246.0,283.9 L246.2,293.9 L246.4,299.0 L246.6,289.7 L246.8,289.1 L247.0,281.2 L247.2,292.7 L247.4,288.4 L247.6,291.4 L247.8,297.7 L248.0,282.6 L248.2,295.3 L248.4,281.0 L248.6,300.8 L248.8,291.4 L249.0,275.2 L249.2,291.2 L249.4,276.0 L249.6,284.7 L249.8,277.1 L250.0,304.1 L250.2,285.2 L250.4,292.1 L250.6,270.8 L250.8,293.0 L251.0,294.1 L251.2,298.9 L251.4,303.6 L251.6,290.6 L251.8,292.0 L252.0,292.4 L252.2,290.9 L252.4,290.6 L252.6,292.2 L252.8,290.9 L253.0,280.6 L253.2,283.4 L253.4,276.9 L253.6,297.7 L253.8,291.4 L254.0,277.0 L254.2,291.5 L254.4,294.5 L254.6,273.9 L254.8,286.0 L255.0,283.0 L255.2,289.0 L255.4,273.0 L255.6,294.4 L255.8,295.3 L256.0,277.8 L256.2,280.7 L256.4,283.0 L256.6,285.8 L256.8,286.7 L257.0,288.7 L257.2,277.7 L257.4,276.9 L257.6,281.3 L257.8,278.9 L258.0,277.5 L258.2,299.7 L258.4,298.4 L258.6,289.2 L258.8,276.0 L259.0,288.8 L259.2,285.4 L259.4,277.7 L259.6,273.2 L259.8,275.4 L260.0,288.4 L260.2,299.5 L260.4,285.5 L260.6,284.7 L260.8,281.8 L261.0,302.5 L261.2,285.3 L261.4,283.3 L261.6,270.9 L261.8,275.0 L262.0,287.3 L262.2,301.7 L262.4,286.9 L262.6,300.9 L262.8,304.0 L263.0,295.3 L263.2,304.8 L263.4,272.5 L263.6,278.0 L263.8,278.2 L264.0,293.6 L264.2,286.0 L264.4,283.2 L264.6,284.9 L264.8,286.6 L265.0,283.6 L265.2,298.5 L265.4,299.4 L265.6,289.3 L265.8,289.3 L266.0,304.9 L266.2,296.1 L266.4,305.9 L266.6,294.9 L266.8,288.4 L267.0,301.7 L267.2,282.9 L267.4,306.9 L267.6,296.8 L267.8,302.0 L268.0,314.0 L268.2,293.8 L268.4,296.0 L268.6,287.4 L268.8,288.7 L269.0,292.7 L269.2,299.4 L269.4,304.3 L269.6,295.3 L269.8,284.4 L270.0,301.4 L270.2,287.7 L270.4,295.1 L270.6,295.3 L270.8,288.9 L271.0,301.7 L271.2,304.6 L271.4,306.4 L271.6,292.1 L271.8,268.3 L272.0,291.4 L272.2,276.4 L272.4,299.9 L272.6,307.6 L272.8,282.6 L273.0,295.0 L273.2,290.0 L273.4,297.6 L273.6,302.4 L273.8,274.5 L274.0,285.9 L274.2,310.8 L274.4,283.4 L274.6,303.5 L274.8,275.7 L275.0,278.5 L275.2,285.5 L275.4,282.0 L275.6,266.1 L275.8,274.1 L276.0,276.4 L276.2,290.2 L276.4,285.8 L276.6,288.6 L276.8,289.1 L277.0,295.3 L277.2,304.2 L277.4,296.4 L277.6,279.0 L277.8,296.2 L278.0,296.6 L278.2,307.0 L278.4,281.7 L278.6,270.2 L278.8,275.8 L279.0,269.6 L279.2,287.2 L279.4,289.8 L279.6,279.0 L279.8,292.8 L280.0,282.1 L280.2,304.2 L280.4,290.7 L280.6,296.3 L280.8,305.7 L281.0,281.8 L281.2,299.1 L281.4,298.6 L281.6,294.6 L281.8,311.9 L282.0,283.2 L282.2,285.3 L282.4,286.0 L282.6,285.2 L282.8,273.2 L283.0,286.3 L283.2,293.0 L283.4,284.3 L283.6,275.8 L283.8,285.4 L284.0,293.5 L284.2,283.2 L284.4,276.9 L284.6,284.0 L284.8,299.5 L285.0,285.2 L285.2,297.1 L285.4,286.4 L285.6,277.9 L285.8,290.9 L286.0,288.2 L286.2,282.9 L286.4,300.3 L286.6,293.2 L286.8,295.0 L287.0,286.8 L287.2,292.0 L287.4,304.8 L287.6,308.5 L287.8,290.7 L288.0,281.6 L288.2,301.9 L288.4,281.5 L288.6,281.3 L288.8,298.1 L289.0,291.7 L289.2,291.5 L289.4,280.2 L289.6,273.3 L289.8,305.3 L290.0,290.4 L290.2,286.2 L290.4,304.6 L290.6,285.5 L290.8,280.2 L291.0,306.9 L291.2,287.0 L291.4,294.8 L291.6,280.4 L291.8,289.8 L292.0,297.2 L292.2,291.4 L292.4,279.9 L292.6,288.6 L292.8,284.5 L293.0,311.0 L293.2,301.3 L293.4,276.3 L293.6,278.9 L293.8,284.7 L294.0,287.5 L294.2,281.7 L294.4,297.9 L294.6,292.1 L294.8,284.1 L295.0,285.3 L295.2,295.0 L295.4,304.4 L295.6,296.5 L295.8,310.1 L296.0,285.1 L296.2,299.0 L296.4,301.1 L296.6,291.8 L296.8,304.8 L297.0,280.2 L297.2,296.5 L297.4,298.2 L297.6,283.6 L297.8,304.5 L298.0,284.3 L298.2,297.7 L298.4,303.4 L298.6,300.2 L298.8,291.5 L299.0,310.4 L299.2,290.2 L299.4,289.7 L299.6,295.8 L299.8,303.5 L300.0,287.0 L300.2,281.3 L300.4,288.4 L300.6,283.7 L300.8,284.7 L301.0,296.7 L301.2,289.4 L301.4,287.6 L301.6,300.9 L301.8,288.7 L302.0,293.8 L302.2,297.2 L302.4,296.0 L302.6,289.0 L302.8,280.7 L303.0,289.2 L303.2,277.2 L303.4,278.7 L303.6,273.5 L303.8,285.1 L304.0,279.6 L304.2,290.9 L304.4,284.8 L304.6,289.4 L304.8,300.2 L305.0,294.7 L305.2,291.5 L305.4,301.6 L305.6,279.9 L305.8,298.8 L306.0,272.3 L306.2,287.7 L306.4,300.3 L306.6,291.0 L306.8,276.1 L307.0,276.1 L307.2,289.4 L307.4,275.9 L307.6,281.5 L307.8,278.2 L308.0,296.3 L308.2,288.1 L308.4,306.4 L308.6,293.3 L308.8,288.4 L309.0,284.5 L309.2,283.6 L309.4,291.1 L309.6,296.2 L309.8,309.1 L310.0,288.8 L310.2,305.7 L310.4,278.1 L310.6,282.6 L310.8,295.6 L311.0,278.3 L311.2,271.3 L311.4,276.3 L311.6,289.2 L311.8,272.2 L312.0,270.8 L312.2,271.4 L312.4,303.4 L312.6,295.7 L312.8,277.8 L313.0,285.8 L313.2,307.2 L313.4,281.5 L313.6,293.2 L313.8,284.0 L314.0,291.1 L314.2,268.9 L314.4,294.9 L314.6,285.5 L314.8,302.3 L315.0,285.6 L315.2,288.2 L315.4,281.9 L315.6,284.4 L315.8,295.3 L316.0,285.6 L316.2,281.2 L316.4,284.3 L316.6,288.3 L316.8,280.2 L317.0,297.7 L317.2,295.6 L317.4,292.2 L317.6,271.1 L317.8,290.3 L318.0,295.2 L318.2,299.8 L318.4,273.7 L318.6,291.6 L318.8,290.2 L319.0,273.8 L319.2,272.1 L319.4,278.6 L319.6,273.9 L319.8,287.3 L320.0,290.7 L320.2,295.1 L320.4,289.5 L320.6,271.8 L320.8,300.9 L321.0,284.0 L321.2,272.4 L321.4,270.3 L321.6,285.9 L321.8,283.0 L322.0,276.1 L322.2,278.0 L322.4,276.3 L322.6,269.5 L322.8,278.8 L323.0,290.1 L323.2,288.5 L323.4,294.3 L323.6,298.6 L323.8,300.9 L324.0,275.3 L324.2,265.3 L324.4,279.9 L324.6,278.2 L324.8,286.6 L325.0,276.4 L325.2,269.9 L325.4,288.2 L325.6,281.2 L325.8,279.2 L326.0,280.9 L326.2,285.1 L326.4,289.0 L326.6,303.9 L326.8,274.1 L327.0,285.5 L327.2,280.8 L327.4,268.4 L327.6,289.4 L327.8,289.0 L328.0,288.8 L328.2,297.5 L328.4,296.4 L328.6,288.0 L328.8,270.4 L329.0,297.9 L329.2,289.7 L329.4,285.7 L329.6,271.3 L329.8,286.5 L330.0,282.2 L330.2,276.7 L330.4,280.9 L330.6,272.9 L330.8,297.0 L331.0,280.8 L331.2,282.5 L331.4,286.6 L331.6,265.8 L331.8,283.8 L332.0,291.1 L332.2,268.0 L332.4,293.4 L332.6,270.9 L332.8,291.1 L333.0,267.2 L333.2,282.1 L333.4,274.7 L333.6,272.0 L333.8,280.2 L334.0,272.5 L334.2,284.5 L334.4,270.1 L334.6,273.0 L334.8,298.2 L335.0,301.2 L335.2,274.9 L335.4,301.2 L335.6,284.7 L335.8,285.6 L336.0,289.1 L336.2,285.6 L336.4,262.7 L336.6,272.4 L336.8,283.5 L337.0,267.0 L337.2,273.1 L337.4,264.2 L337.6,283.5 L337.8,296.9 L338.0,277.4 L338.2,268.8 L338.4,269.0 L338.6,275.3 L338.8,303.2 L339.0,287.1 L339.2,279.1 L339.4,276.8 L339.6,286.6 L339.8,273.2 L340.0,291.9 L340.2,289.7 L340.4,288.8 L340.6,288.1 L340.8,288.7 L341.0,279.7 L341.2,291.7 L341.4,293.3 L341.6,282.3 L341.8,287.1 L342.0,276.6 L342.2,271.5 L342.4,274.6 L342.6,287.6 L342.8,286.3 L343.0,277.4 L343.2,289.5 L343.4,284.9 L343.6,283.9 L343.8,284.9 L344.0,290.9 L344.2,272.0 L344.4,268.4 L344.6,267.8 L344.8,274.2 L345.0,281.9 L345.2,266.0 L345.4,296.0 L345.6,290.9 L345.8,289.6 L346.0,282.5 L346.2,290.5 L346.4,290.7 L346.6,285.7 L346.8,270.3 L347.0,284.4 L347.2,283.4 L347.4,280.1 L347.6,272.8 L347.8,282.2 L348.0,291.9 L348.2,283.0 L348.4,283.2 L348.6,278.8 L348.8,292.2 L349.0,286.3 L349.2,282.0 L349.4,282.4 L349.6,285.9 L349.8,287.0 L350.0,287.9 L350.2,275.8 L350.4,287.1 L350.6,292.0 L350.8,289.2 L351.0,282.3 L351.2,265.3 L351.4,297.0 L351.6,288.0 L351.8,288.5 L352.0,272.2 L352.2,303.6 L352.4,291.2 L352.6,269.8 L352.8,278.9 L353.0,271.1 L353.2,287.0 L353.4,277.2 L353.6,283.4 L353.8,263.0 L354.0,278.5 L354.2,282.4 L354.4,289.7 L354.6,266.7 L354.8,275.5 L355.0,283.1 L355.2,293.3 L355.4,289.2 L355.6,274.6 L355.8,294.2 L356.0,297.8 L356.2,276.6 L356.4,279.2 L356.6,283.0 L356.8,278.6 L357.0,273.8 L357.2,287.1 L357.4,280.6 L357.6,282.0 L357.8,278.9 L358.0,283.4 L358.2,281.4 L358.4,267.8 L358.6,276.5 L358.8,280.4 L359.0,284.5 L359.2,282.4 L359.4,279.3 L359.6,275.2 L359.8,289.5 L360.0,290.2 L360.2,287.0 L360.4,297.8 L360.6,292.5 L360.8,282.6 L361.0,287.1 L361.2,282.1 L361.4,290.3 L361.6,292.3 L361.8,288.4 L362.0,293.9 L362.2,292.7 L362.4,281.9 L362.6,287.8 L362.8,281.3 L363.0,283.8 L363.2,279.8 L363.4,272.9 L363.6,279.1 L363.8,291.1 L364.0,282.5 L364.2,284.2 L364.4,273.7 L364.6,265.9 L364.8,280.1 L365.0,278.5 L365.2,267.8 L365.4,268.5 L365.6,284.8 L365.8,277.7 L366.0,273.8 L366.2,295.6 L366.4,298.2 L366.6,292.5 L366.8,285.2 L367.0,294.3 L367.2,299.7 L367.4,289.0 L367.6,289.8 L367.8,297.0 L368.0,287.7 L368.2,280.6 L368.4,281.5 L368.6,291.2 L368.8,292.8 L369.0,276.2 L369.2,269.4 L369.4,295.3 L369.6,286.9 L369.8,288.4 L370.0,287.1 L370.2,289.5 L370.4,293.9 L370.6,279.5 L370.8,279.5 L371.0,286.5 L371.2,286.5 L371.4,278.7 L371.6,269.5 L371.8,301.5 L372.0,287.3 L372.2,291.3 L372.4,277.3 L372.6,283.6 L372.8,288.3 L373.0,272.2 L373.2,302.9 L373.4,291.2 L373.6,295.2 L373.8,284.2 L374.0,300.6 L374.2,286.5 L374.4,273.0 L374.6,273.9 L374.8,296.6 L375.0,285.1 L375.2,281.7 L375.4,301.9 L375.6,292.2 L375.8,279.4 L376.0,266.8 L376.2,290.9 L376.4,279.9 L376.6,287.6 L376.8,286.2 L377.0,295.4 L377.2,291.2 L377.4,278.5 L377.6,293.2 L377.8,289.4 L378.0,293.4 L378.2,286.3 L378.4,294.7 L378.6,283.1 L378.8,300.4 L379.0,283.3 L379.2,290.0 L379.4,279.5 L379.6,269.6 L379.8,279.9 L380.0,281.9 L380.2,283.4 L380.4,280.7 L380.6,288.4 L380.8,281.2 L381.0,287.2 L381.2,301.7 L381.4,296.7 L381.6,303.7 L381.8,284.7 L382.0,295.9 L382.2,279.8 L382.4,289.1 L382.6,293.2 L382.8,280.4 L383.0,283.6 L383.2,295.2 L383.4,287.3 L383.6,278.4 L383.8,289.7 L384.0,282.7 L384.2,285.7 L384.4,279.1 L384.6,278.9 L384.8,273.7 L385.0,275.7 L385.2,289.4 L385.4,300.7 L385.6,283.4 L385.8,284.3 L386.0,277.9 L386.2,293.2 L386.4,297.0 L386.6,290.2 L386.8,292.4 L387.0,298.7 L387.2,296.8 L387.4,279.3 L387.6,274.6 L387.8,275.9 L388.0,270.9 L388.2,276.1 L388.4,291.9 L388.6,280.9 L388.8,302.0 L389.0,304.7 L389.2,294.5 L389.4,271.5 L389.6,290.2 L389.8,295.8 L390.0,275.3 L390.2,282.0 L390.4,299.5 L390.6,272.1 L390.8,267.4 L391.0,291.8 L391.2,283.2 L391.4,287.7 L391.6,297.3 L391.8,283.0 L392.0,284.2 L392.2,272.7 L392.4,284.1 L392.6,269.8 L392.8,288.1 L393.0,289.4 L393.2,282.1 L393.4,294.5 L393.6,299.9 L393.8,287.6 L394.0,299.2 L394.2,288.6 L394.4,273.5 L394.6,292.4 L394.8,295.7 L395.0,286.7 L395.2,298.5 L395.4,287.1 L395.6,291.0 L395.8,281.1 L396.0,278.2 L396.2,296.5 L396.4,278.9 L396.6,276.3 L396.8,283.8 L397.0,270.3 L397.2,277.1 L397.4,278.3 L397.6,289.5 L397.8,285.3 L398.0,293.1 L398.2,290.3 L398.4,270.6 L398.6,276.7 L398.8,286.7 L399.0,287.3 L399.2,274.1 L399.4,266.4 L399.6,263.5 L399.8,280.6 L400.0,295.1 L400.2,276.4 L400.4,279.3 L400.6,277.1 L400.8,274.8 L401.0,288.9 L401.2,278.3 L401.4,290.8 L401.6,279.8 L401.8,283.0 L402.0,278.0 L402.2,289.2 L402.4,270.7 L402.6,274.9 L402.8,279.0 L403.0,292.1 L403.2,291.2 L403.4,281.2 L403.6,278.0 L403.8,279.2 L404.0,287.6 L404.2,280.7 L404.4,269.9 L404.6,301.2 L404.8,268.8 L405.0,271.2 L405.2,277.5 L405.4,279.9 L405.6,276.5 L405.8,274.0 L406.0,293.5 L406.2,293.1 L406.4,279.9 L406.6,290.3 L406.8,279.9 L407.0,278.3 L407.2,292.8 L407.4,289.3 L407.6,292.8 L407.8,274.9 L408.0,269.2 L408.2,280.2 L408.4,299.8 L408.6,286.0 L408.8,282.0 L409.0,268.7 L409.2,288.8 L409.4,291.9 L409.6,296.4 L409.8,288.3 L410.0,264.7 L410.2,270.9 L410.4,286.3 L410.6,281.8 L410.8,270.4 L411.0,283.8 L411.2,273.2 L411.4,297.1 L411.6,285.5 L411.8,280.0 L412.0,296.7 L412.2,296.7 L412.4,288.5 L412.6,278.4 L412.8,287.9 L413.0,295.2 L413.2,270.2 L413.4,287.5 L413.6,292.0 L413.8,270.5 L414.0,279.5 L414.2,284.4 L414.4,301.4 L414.6,288.4 L414.8,298.5 L415.0,278.4 L415.2,295.6 L415.4,285.9 L415.6,275.8 L415.8,289.5 L416.0,289.0 L416.2,279.6 L416.4,281.5 L416.6,269.2 L416.8,291.3 L417.0,279.0 L417.2,293.7 L417.4,298.8 L417.7,289.6 L417.9,289.5 L418.1,279.2 L418.3,294.3 L418.5,289.7 L418.7,277.1 L418.9,294.5 L419.1,296.2 L419.3,288.4 L419.5,285.7 L419.7,282.3 L419.9,289.0 L420.1,280.7 L420.3,286.7 L420.5,293.8 L420.7,285.9 L420.9,274.9 L421.1,286.4 L421.3,289.2 L421.5,269.7 L421.7,297.0 L421.9,285.0 L422.1,290.1 L422.3,289.6 L422.5,276.0 L422.7,285.7 L422.9,283.9 L423.1,279.5 L423.3,290.6 L423.5,279.4 L423.7,281.2 L423.9,270.3 L424.1,277.7 L424.3,281.6 L424.5,275.5 L424.7,282.4 L424.9,282.0 L425.1,294.5 L425.3,286.7 L425.5,268.3 L425.7,270.2 L425.9,286.6 L426.1,271.2 L426.3,286.2 L426.5,286.3 L426.7,285.3 L426.9,283.6 L427.1,290.3 L427.3,293.0 L427.5,276.1 L427.7,292.3 L427.9,276.4 L428.1,283.4 L428.3,276.0 L428.5,273.8 L428.7,275.9 L428.9,283.8 L429.1,278.6 L429.3,295.4 L429.5,288.5 L429.7,295.5 L429.9,268.6 L430.1,272.8 L430.3,279.9 L430.5,278.9 L430.7,283.3 L430.9,275.7 L431.1,280.1 L431.3,283.0 L431.5,270.5 L431.7,295.0 L431.9,272.8 L432.1,281.9 L432.3,284.7 L432.5,289.9 L432.7,285.1 L432.9,288.7 L433.1,296.6 L433.3,278.3 L433.5,287.1 L433.7,290.2 L433.9,281.3 L434.1,274.6 L434.3,286.4 L434.5,296.6 L434.7,279.3 L434.9,285.0 L435.1,283.3 L435.3,272.1 L435.5,266.7 L435.7,284.9 L435.9,294.2 L436.1,299.3 L436.3,292.0 L436.5,291.7 L436.7,283.9 L436.9,273.3 L437.1,287.7 L437.3,296.4 L437.5,295.8 L437.7,278.7 L437.9,298.9 L438.1,290.0 L438.3,293.5 L438.5,294.7 L438.7,294.9 L438.9,294.0 L439.1,282.1 L439.3,279.4 L439.5,273.7 L439.7,287.2 L439.9,275.8 L440.1,298.9 L440.3,269.8 L440.5,304.0 L440.7,266.0 L440.9,269.1 L441.1,294.7 L441.3,291.0 L441.5,292.8 L441.7,291.0 L441.9,288.8 L442.1,275.3 L442.3,289.0 L442.5,288.9 L442.7,285.5 L442.9,278.7 L443.1,293.5 L443.3,291.4 L443.5,279.8 L443.7,275.3 L443.9,274.7 L444.1,263.7 L444.3,266.2 L444.5,288.9 L444.7,291.8 L444.9,272.8 L445.1,268.4 L445.3,279.4 L445.5,278.5 L445.7,285.4 L445.9,287.7 L446.1,289.9 L446.3,273.3 L446.5,284.2 L446.7,281.7 L446.9,285.3 L447.1,287.4 L447.3,274.2 L447.5,287.3 L447.7,275.4 L447.9,287.5 L448.1,271.1 L448.3,288.8 L448.5,270.0 L448.7,273.5 L448.9,272.8 L449.1,278.2 L449.3,282.8 L449.5,284.2 L449.7,272.0 L449.9,267.7 L450.1,295.6 L450.3,264.9 L450.5,298.3 L450.7,280.5 L450.9,271.2 L451.1,273.4 L451.3,268.0 L451.5,272.0 L451.7,273.9 L451.9,289.9 L452.1,273.7 L452.3,287.6 L452.5,300.1 L452.7,279.0 L452.9,277.3 L453.1,282.2 L453.3,268.5 L453.5,280.2 L453.7,290.3 L453.9,273.5 L454.1,294.1 L454.3,275.8 L454.5,286.6 L454.7,275.6 L454.9,266.2 L455.1,274.3 L455.3,286.6 L455.5,290.2 L455.7,292.9 L455.9,297.3 L456.1,271.1 L456.3,266.4 L456.5,298.6 L456.7,276.8 L456.9,275.1 L457.1,277.5 L457.3,293.5 L457.5,283.0 L457.7,295.8 L457.9,280.6 L458.1,275.7 L458.3,297.3 L458.5,283.2 L458.7,270.1 L458.9,287.5 L459.1,279.3 L459.3,262.8 L459.5,275.9 L459.7,276.1 L459.9,280.1 L460.1,278.8 L460.3,281.6 L460.5,291.0 L460.7,285.2 L460.9,288.2 L461.1,282.4 L461.3,288.7 L461.5,290.2 L461.7,287.2 L461.9,290.8 L462.1,282.4 L462.3,278.6 L462.5,291.9 L462.7,303.1 L462.9,296.1 L463.1,285.1 L463.3,292.1 L463.5,289.2 L463.7,283.4 L463.9,267.4 L464.1,274.8 L464.3,279.5 L464.5,279.3 L464.7,280.9 L464.9,284.0 L465.1,279.6 L465.3,279.4 L465.5,284.7 L465.7,270.1 L465.9,297.4 L466.1,286.5 L466.3,300.2 L466.5,271.3 L466.7,295.8 L466.9,283.1 L467.1,283.5 L467.3,270.8 L467.5,284.2 L467.7,284.7 L467.9,289.4 L468.1,273.0 L468.3,290.5 L468.5,281.5 L468.7,294.0 L468.9,286.7 L469.1,292.3 L469.3,267.1 L469.5,290.2 L469.7,296.8 L469.9,277.5 L470.1,285.6 L470.3,295.5 L470.5,280.3 L470.7,287.6 L470.9,283.6 L471.1,280.1 L471.3,290.0 L471.5,299.9 L471.7,285.4 L471.9,287.9 L472.1,270.8 L472.3,281.6 L472.5,276.5 L472.7,289.9 L472.9,280.8 L473.1,288.2 L473.3,289.4 L473.5,282.0 L473.7,281.7 L473.9,286.7 L474.1,278.3 L474.3,289.9 L474.5,282.3 L474.7,287.7 L474.9,280.5 L475.1,297.6 L475.3,279.4 L475.5,290.8 L475.7,285.6 L475.9,278.0 L476.1,289.7 L476.3,285.2 L476.5,285.4 L476.7,294.8 L476.9,276.9 L477.1,277.3 L477.3,279.6 L477.5,294.8 L477.7,294.1 L477.9,285.4 L478.1,288.5 L478.3,277.9 L478.5,289.6 L478.7,286.2 L478.9,283.7 L479.1,279.9 L479.3,289.7 L479.5,274.1 L479.7,290.0 L479.9,286.8 L480.1,287.3 L480.3,285.9 L480.5,292.7 L480.7,284.4 L480.9,291.6 L481.1,292.5 L481.3,281.1 L481.5,287.6 L481.7,282.9 L481.9,290.0 L482.1,278.5 L482.3,286.2 L482.5,287.8 L482.7,287.0 L482.9,274.3 L483.1,287.9 L483.3,287.7 L483.5,278.2 L483.7,283.0 L483.9,282.8 L484.1,290.1 L484.3,294.2 L484.5,282.9 L484.7,295.1 L484.9,296.5 L485.1,294.0 L485.3,290.1 L485.5,280.4 L485.7,283.6 L485.9,278.6 L486.1,299.7 L486.3,284.2 L486.5,283.4 L486.7,294.2 L486.9,289.1 L487.1,281.4 L487.3,296.7 L487.5,293.6 L487.7,291.6 L487.9,297.7 L488.1,283.8 L488.3,290.8 L488.5,283.8 L488.7,286.4 L488.9,291.8 L489.1,273.8 L489.3,281.6 L489.5,288.4 L489.7,283.6 L489.9,272.8 L490.1,294.7 L490.3,275.3 L490.5,289.4 L490.7,277.8 L490.9,283.1 L491.1,294.9 L491.3,278.5 L491.5,291.2 L491.7,289.8 L491.9,290.9 L492.1,293.1 L492.3,302.4 L492.5,291.0 L492.7,300.6 L492.9,295.3 L493.1,288.1 L493.3,283.2 L493.5,290.9 L493.7,294.3 L493.9,280.8 L494.1,288.7 L494.3,294.8 L494.5,293.2 L494.7,298.9 L494.9,297.3 L495.1,290.8 L495.3,279.9 L495.5,268.5 L495.7,287.5 L495.9,286.8 L496.1,294.4 L496.3,297.4 L496.5,286.6 L496.7,284.7 L496.9,271.6 L497.1,271.2 L497.3,272.3 L497.5,283.0 L497.7,277.8 L497.9,288.0 L498.1,276.9 L498.3,292.9 L498.5,288.8 L498.7,285.5 L498.9,283.3 L499.1,299.5 L499.3,302.5 L499.5,299.2 L499.7,296.3 L499.9,297.6 L500.1,280.1 L500.3,298.9 L500.5,274.2 L500.7,284.8 L500.9,294.5 L501.1,296.6 L501.3,287.8 L501.5,296.1 L501.7,301.2 L501.9,280.6 L502.1,287.6 L502.3,286.1 L502.5,291.5 L502.7,271.0 L502.9,285.6 L503.1,279.0 L503.3,278.2 L503.5,293.1 L503.7,299.1 L503.9,289.7 L504.1,274.5 L504.3,275.6 L504.5,272.2 L504.7,289.5 L504.9,282.0 L505.1,295.8 L505.3,280.4 L505.5,298.1 L505.7,270.7 L505.9,291.4 L506.1,275.7 L506.3,291.6 L506.5,272.9 L506.7,286.1 L506.9,284.9 L507.1,266.7 L507.3,274.4 L507.5,290.1 L507.7,278.9 L507.9,296.2 L508.1,272.9 L508.3,269.1 L508.5,270.0 L508.7,290.1 L508.9,280.2 L509.1,284.8 L509.3,286.6 L509.5,275.8 L509.7,276.0 L509.9,276.6 L510.1,283.0 L510.3,270.9 L510.5,293.8 L510.7,284.1 L510.9,276.6 L511.1,283.9 L511.3,286.4 L511.5,270.4 L511.7,273.3 L511.9,270.5 L512.1,282.2 L512.3,271.0 L512.5,274.9 L512.7,272.1 L512.9,276.9 L513.1,285.7 L513.3,263.3 L513.5,270.7 L513.7,272.9 L513.9,268.8 L514.1,264.0 L514.3,280.4 L514.5,268.7 L514.7,270.4 L514.9,271.4 L515.1,275.3 L515.3,279.5 L515.5,275.1 L515.7,282.1 L515.9,274.4 L516.1,271.3 L516.3,273.9 L516.5,282.9 L516.7,286.4 L516.9,284.7 L517.1,279.9 L517.3,284.9 L517.5,279.0 L517.7,285.6 L517.9,277.7 L518.1,293.7 L518.3,275.6 L518.5,290.4 L518.7,285.0 L518.9,268.8 L519.1,280.5 L519.3,288.9 L519.5,273.9 L519.7,283.9 L519.9,294.7 L520.1,287.7 L520.3,287.2 L520.5,283.4 L520.7,275.4 L520.9,287.9 L521.1,278.0 L521.3,281.3 L521.5,294.5 L521.7,278.7 L521.9,284.7 L522.1,288.0 L522.3,287.4 L522.5,281.4 L522.7,273.9 L522.9,274.6 L523.1,295.2 L523.3,299.1 L523.5,279.8 L523.7,304.0 L523.9,272.3 L524.1,272.2 L524.3,272.9 L524.5,278.6 L524.7,279.9 L524.9,280.8 L525.1,290.4 L525.3,285.6 L525.5,292.9 L525.7,273.8 L525.9,297.8 L526.1,281.0 L526.3,286.0 L526.5,292.8 L526.7,295.0 L526.9,274.9 L527.1,284.5 L527.3,299.1 L527.5,282.7 L527.7,280.0 L527.9,269.5 L528.1,283.6 L528.3,279.3 L528.5,292.4 L528.7,263.1 L528.9,273.7 L529.1,271.4 L529.3,290.6 L529.5,278.2 L529.7,269.2 L529.9,275.6 L530.1,284.9 L530.3,296.5 L530.5,279.6 L530.7,279.9 L530.9,269.9 L531.1,279.0 L531.3,284.9 L531.5,277.2 L531.7,282.2 L531.9,277.6 L532.1,293.0 L532.3,299.7 L532.5,297.6 L532.7,293.8 L532.9,283.1 L533.1,271.8 L533.3,293.2 L533.5,284.8 L533.7,263.8 L533.9,294.9 L534.1,286.1 L534.3,277.2 L534.5,272.3 L534.7,271.8 L534.9,276.0 L535.1,273.7 L535.3,284.3 L535.5,275.8 L535.7,275.4 L535.9,274.8 L536.1,277.5 L536.3,279.6 L536.5,281.6 L536.7,271.8 L536.9,300.3 L537.1,287.2 L537.3,287.6 L537.5,282.2"/>
<g class="leg">
<rect x="279.7" y="22.0" width="245.8" height="78" fill="#fff" stroke="#262626" stroke-width="1.1"/>
<line x1="284" y1="36.2" x2="328.7" y2="36.2" stroke="#000" stroke-width="1.7"/>
<line x1="284" y1="60.9" x2="328.7" y2="60.9" stroke="#f00" stroke-width="1.7"/>
<line x1="284" y1="85.5" x2="328.7" y2="85.5" stroke="#0f0" stroke-width="1.7"/>
<text x="332.3" y="38.5">RLS-T, k<tspan dx="0.4" dy="6.4" font-size="10.3">1</tspan><tspan dx="0.4" dy="-6.4">=9, k</tspan><tspan dx="0.4" dy="6.4" font-size="10.3">2</tspan><tspan dx="0.4" dy="-6.4">=k</tspan><tspan dx="0.4" dy="6.4" font-size="10.3">3</tspan><tspan dx="0.4" dy="-6.4">=7</tspan></text>
<text x="332.3" y="63.1">RLS-DCD-T, k<tspan dx="0.4" dy="6.4" font-size="10.3">1</tspan><tspan dx="0.4" dy="-6.4">=9, k</tspan><tspan dx="0.4" dy="6.4" font-size="10.3">2</tspan><tspan dx="0.4" dy="-6.4">=k</tspan><tspan dx="0.4" dy="6.4" font-size="10.3">3</tspan><tspan dx="0.4" dy="-6.4">=7</tspan></text>
<text x="332.3" y="87.6">VR-RLS-DCD-T, k<tspan dx="0.4" dy="6.4" font-size="10.3">1</tspan><tspan dx="0.4" dy="-6.4">=9, k</tspan><tspan dx="0.4" dy="6.4" font-size="10.3">2</tspan><tspan dx="0.4" dy="-6.4">=k</tspan><tspan dx="0.4" dy="6.4" font-size="10.3">3</tspan><tspan dx="0.4" dy="-6.4">=7</tspan></text>
</g>
</svg>
</body></html>
